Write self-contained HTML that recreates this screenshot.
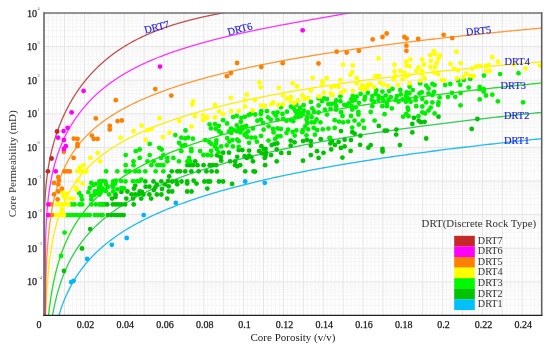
<!DOCTYPE html>
<html><head><meta charset="utf-8"><title>DRT Core Porosity vs Permeability</title>
<style>html,body{margin:0;padding:0;background:#fff;}body{width:550px;height:349px;position:relative;overflow:hidden;}</style>
</head><body>
<svg width="550" height="349" viewBox="0 0 550 349" style="position:absolute;left:0;top:0">
<defs><clipPath id="pa"><rect x="44.50" y="13.00" width="497.20" height="302.40"/></clipPath></defs>
<path d="M48.58 13.00V315.40M52.56 13.00V315.40M56.54 13.00V315.40M60.52 13.00V315.40M68.48 13.00V315.40M72.46 13.00V315.40M76.44 13.00V315.40M80.42 13.00V315.40M88.38 13.00V315.40M92.36 13.00V315.40M96.34 13.00V315.40M100.32 13.00V315.40M108.28 13.00V315.40M112.26 13.00V315.40M116.24 13.00V315.40M120.22 13.00V315.40M128.18 13.00V315.40M132.16 13.00V315.40M136.14 13.00V315.40M140.12 13.00V315.40M148.08 13.00V315.40M152.06 13.00V315.40M156.04 13.00V315.40M160.02 13.00V315.40M167.98 13.00V315.40M171.96 13.00V315.40M175.94 13.00V315.40M179.92 13.00V315.40M187.88 13.00V315.40M191.86 13.00V315.40M195.84 13.00V315.40M199.82 13.00V315.40M207.78 13.00V315.40M211.76 13.00V315.40M215.74 13.00V315.40M219.72 13.00V315.40M227.68 13.00V315.40M231.66 13.00V315.40M235.64 13.00V315.40M239.62 13.00V315.40M247.58 13.00V315.40M251.56 13.00V315.40M255.54 13.00V315.40M259.52 13.00V315.40M267.48 13.00V315.40M271.46 13.00V315.40M275.44 13.00V315.40M279.42 13.00V315.40M287.38 13.00V315.40M291.36 13.00V315.40M295.34 13.00V315.40M299.32 13.00V315.40M307.28 13.00V315.40M311.26 13.00V315.40M315.24 13.00V315.40M319.22 13.00V315.40M327.18 13.00V315.40M331.16 13.00V315.40M335.14 13.00V315.40M339.12 13.00V315.40M347.08 13.00V315.40M351.06 13.00V315.40M355.04 13.00V315.40M359.02 13.00V315.40M366.98 13.00V315.40M370.96 13.00V315.40M374.94 13.00V315.40M378.92 13.00V315.40M386.88 13.00V315.40M390.86 13.00V315.40M394.84 13.00V315.40M398.82 13.00V315.40M406.78 13.00V315.40M410.76 13.00V315.40M414.74 13.00V315.40M418.72 13.00V315.40M426.68 13.00V315.40M430.66 13.00V315.40M434.64 13.00V315.40M438.62 13.00V315.40M446.58 13.00V315.40M450.56 13.00V315.40M454.54 13.00V315.40M458.52 13.00V315.40M466.48 13.00V315.40M470.46 13.00V315.40M474.44 13.00V315.40M478.42 13.00V315.40M486.38 13.00V315.40M490.36 13.00V315.40M494.34 13.00V315.40M498.32 13.00V315.40M506.28 13.00V315.40M510.26 13.00V315.40M514.24 13.00V315.40M518.22 13.00V315.40M526.18 13.00V315.40M530.16 13.00V315.40M534.14 13.00V315.40M538.12 13.00V315.40M44.50 305.29H541.70M44.50 299.37H541.70M44.50 295.17H541.70M44.50 291.91H541.70M44.50 289.25H541.70M44.50 287.00H541.70M44.50 285.06H541.70M44.50 283.34H541.70M44.50 271.69H541.70M44.50 265.77H541.70M44.50 261.57H541.70M44.50 258.31H541.70M44.50 255.65H541.70M44.50 253.40H541.70M44.50 251.46H541.70M44.50 249.74H541.70M44.50 238.09H541.70M44.50 232.17H541.70M44.50 227.97H541.70M44.50 224.71H541.70M44.50 222.05H541.70M44.50 219.80H541.70M44.50 217.86H541.70M44.50 216.14H541.70M44.50 204.49H541.70M44.50 198.57H541.70M44.50 194.37H541.70M44.50 191.11H541.70M44.50 188.45H541.70M44.50 186.20H541.70M44.50 184.26H541.70M44.50 182.54H541.70M44.50 170.89H541.70M44.50 164.97H541.70M44.50 160.77H541.70M44.50 157.51H541.70M44.50 154.85H541.70M44.50 152.60H541.70M44.50 150.66H541.70M44.50 148.94H541.70M44.50 137.29H541.70M44.50 131.37H541.70M44.50 127.17H541.70M44.50 123.91H541.70M44.50 121.25H541.70M44.50 119.00H541.70M44.50 117.06H541.70M44.50 115.34H541.70M44.50 103.69H541.70M44.50 97.77H541.70M44.50 93.57H541.70M44.50 90.31H541.70M44.50 87.65H541.70M44.50 85.40H541.70M44.50 83.46H541.70M44.50 81.74H541.70M44.50 70.09H541.70M44.50 64.17H541.70M44.50 59.97H541.70M44.50 56.71H541.70M44.50 54.05H541.70M44.50 51.80H541.70M44.50 49.86H541.70M44.50 48.14H541.70M44.50 36.49H541.70M44.50 30.57H541.70M44.50 26.37H541.70M44.50 23.11H541.70M44.50 20.45H541.70M44.50 18.20H541.70M44.50 16.26H541.70M44.50 14.54H541.70" stroke="#f5f5f5" stroke-width="1" fill="none"/>
<path d="M64.50 13.00V315.40M84.40 13.00V315.40M104.30 13.00V315.40M124.20 13.00V315.40M144.10 13.00V315.40M164.00 13.00V315.40M183.90 13.00V315.40M203.80 13.00V315.40M223.70 13.00V315.40M243.60 13.00V315.40M263.50 13.00V315.40M283.40 13.00V315.40M303.30 13.00V315.40M323.20 13.00V315.40M343.10 13.00V315.40M363.00 13.00V315.40M382.90 13.00V315.40M402.80 13.00V315.40M422.70 13.00V315.40M442.60 13.00V315.40M462.50 13.00V315.40M482.40 13.00V315.40M502.30 13.00V315.40M522.20 13.00V315.40M44.50 281.80H541.70M44.50 248.20H541.70M44.50 214.60H541.70M44.50 181.00H541.70M44.50 147.40H541.70M44.50 113.80H541.70M44.50 80.20H541.70M44.50 46.60H541.70" stroke="#e5e5e5" stroke-width="1" fill="none"/>
<g clip-path="url(#pa)"><path d="M50.70 354.78 L50.80 354.06 L50.90 353.35 L51.00 352.65 L51.10 351.96 L51.20 351.28 L51.30 350.61 L51.40 349.94 L51.50 349.29 L51.60 348.64 L51.70 348.00 L51.80 347.37 L51.90 346.75 L52.00 346.13 L52.10 345.52 L52.20 344.92 L52.30 344.33 L52.40 343.74 L52.50 343.16 L52.60 342.59 L52.70 342.02 L52.80 341.46 L52.90 340.91 L53.00 340.36 L53.10 339.81 L53.20 339.28 L53.30 338.75 L53.40 338.22 L53.50 337.70 L53.60 337.18 L53.70 336.67 L53.80 336.17 L53.90 335.67 L54.00 335.17 L54.10 334.68 L54.20 334.20 L54.30 333.72 L54.40 333.24 L54.50 332.77 L54.60 332.30 L54.70 331.84 L54.80 331.38 L54.90 330.92 L55.00 330.47 L55.10 330.02 L55.20 329.58 L55.30 329.14 L55.40 328.71 L55.50 328.27 L55.60 327.85 L55.70 327.42 L55.80 327.00 L55.90 326.58 L56.00 326.17 L56.10 325.76 L56.20 325.35 L56.30 324.94 L56.40 324.54 L56.50 324.15 L56.60 323.75 L56.70 323.36 L56.80 322.97 L56.90 322.58 L57.00 322.20 L57.10 321.82 L57.20 321.44 L57.30 321.07 L57.40 320.70 L57.50 320.33 L57.60 319.96 L57.70 319.60 L57.80 319.24 L57.90 318.88 L58.00 318.52 L58.10 318.17 L58.20 317.82 L58.30 317.47 L58.40 317.12 L58.50 316.78 L58.60 316.44 L58.70 316.10 L58.80 315.76 L58.90 315.43 L59.00 315.09 L59.10 314.76 L59.20 314.44 L59.30 314.11 L59.40 313.79 L59.50 313.46 L59.60 313.14 L59.70 312.83 L59.80 312.51 L59.90 312.20 L60.00 311.88 L60.50 310.35 L61.00 308.86 L61.50 307.42 L62.00 306.01 L62.50 304.65 L63.00 303.31 L63.50 302.02 L64.00 300.75 L64.50 299.52 L65.00 298.31 L65.50 297.14 L66.00 295.99 L66.50 294.86 L67.00 293.76 L67.50 292.69 L68.00 291.63 L68.50 290.60 L69.00 289.59 L69.50 288.60 L70.00 287.62 L70.50 286.67 L71.00 285.73 L71.50 284.81 L72.00 283.91 L72.50 283.02 L73.00 282.15 L73.50 281.29 L74.00 280.44 L74.50 279.62 L75.00 278.80 L75.50 278.00 L76.00 277.20 L76.50 276.43 L77.00 275.66 L77.50 274.90 L78.00 274.16 L78.50 273.43 L79.00 272.70 L79.50 271.99 L80.00 271.29 L80.50 270.59 L81.00 269.91 L81.50 269.23 L82.00 268.57 L82.50 267.91 L83.00 267.26 L83.50 266.62 L84.00 265.99 L84.50 265.36 L85.00 264.75 L85.50 264.14 L86.00 263.53 L86.50 262.94 L87.00 262.35 L87.50 261.77 L88.00 261.19 L88.50 260.62 L89.00 260.06 L89.50 259.50 L90.00 258.95 L90.50 258.41 L91.00 257.87 L91.50 257.34 L92.00 256.81 L92.50 256.29 L93.00 255.77 L93.50 255.26 L94.00 254.75 L94.50 254.25 L95.00 253.76 L95.50 253.27 L96.00 252.78 L96.50 252.30 L97.00 251.82 L97.50 251.35 L98.00 250.88 L98.50 250.41 L99.00 249.95 L99.50 249.50 L100.00 249.04 L100.50 248.60 L101.00 248.15 L101.50 247.71 L102.00 247.27 L102.50 246.84 L103.00 246.41 L103.50 245.99 L104.00 245.57 L104.50 245.15 L105.00 244.73 L105.50 244.32 L106.00 243.91 L106.50 243.51 L107.00 243.11 L107.50 242.71 L108.00 242.31 L108.50 241.92 L109.00 241.53 L109.50 241.14 L110.00 240.76 L110.50 240.38 L111.00 240.00 L111.50 239.63 L112.00 239.25 L112.50 238.88 L113.00 238.52 L113.50 238.15 L114.00 237.79 L114.50 237.43 L115.00 237.07 L115.50 236.72 L116.00 236.37 L116.50 236.02 L117.00 235.67 L117.50 235.33 L118.00 234.99 L118.50 234.65 L119.00 234.31 L119.50 233.97 L120.00 233.64 L122.00 232.33 L124.00 231.05 L126.00 229.81 L128.00 228.59 L130.00 227.40 L132.00 226.24 L134.00 225.11 L136.00 224.00 L138.00 222.91 L140.00 221.85 L142.00 220.81 L144.00 219.79 L146.00 218.78 L148.00 217.80 L150.00 216.84 L152.00 215.90 L154.00 214.97 L156.00 214.06 L158.00 213.17 L160.00 212.29 L162.00 211.42 L164.00 210.58 L166.00 209.74 L168.00 208.92 L170.00 208.11 L172.00 207.31 L174.00 206.53 L176.00 205.76 L178.00 205.00 L180.00 204.25 L182.00 203.51 L184.00 202.79 L186.00 202.07 L188.00 201.36 L190.00 200.67 L192.00 199.98 L194.00 199.30 L196.00 198.63 L198.00 197.97 L200.00 197.32 L202.00 196.67 L204.00 196.04 L206.00 195.41 L208.00 194.79 L210.00 194.18 L212.00 193.57 L214.00 192.97 L216.00 192.38 L218.00 191.80 L220.00 191.22 L222.00 190.65 L224.00 190.08 L226.00 189.53 L228.00 188.97 L230.00 188.43 L232.00 187.89 L234.00 187.35 L236.00 186.82 L238.00 186.30 L240.00 185.78 L242.00 185.27 L244.00 184.76 L246.00 184.25 L248.00 183.76 L250.00 183.26 L252.00 182.78 L254.00 182.29 L256.00 181.81 L258.00 181.34 L260.00 180.87 L262.00 180.40 L264.00 179.94 L266.00 179.48 L268.00 179.03 L270.00 178.58 L272.00 178.13 L274.00 177.69 L276.00 177.26 L278.00 176.82 L280.00 176.39 L282.00 175.96 L284.00 175.54 L286.00 175.12 L288.00 174.71 L290.00 174.29 L292.00 173.88 L294.00 173.48 L296.00 173.08 L298.00 172.68 L300.00 172.28 L302.00 171.89 L304.00 171.50 L306.00 171.11 L308.00 170.72 L310.00 170.34 L312.00 169.96 L314.00 169.59 L316.00 169.21 L318.00 168.84 L320.00 168.48 L322.00 168.11 L324.00 167.75 L326.00 167.39 L328.00 167.03 L330.00 166.68 L332.00 166.33 L334.00 165.98 L336.00 165.63 L338.00 165.28 L340.00 164.94 L342.00 164.60 L344.00 164.26 L346.00 163.93 L348.00 163.59 L350.00 163.26 L352.00 162.93 L354.00 162.61 L356.00 162.28 L358.00 161.96 L360.00 161.64 L362.00 161.32 L364.00 161.00 L366.00 160.69 L368.00 160.37 L370.00 160.06 L372.00 159.75 L374.00 159.45 L376.00 159.14 L378.00 158.84 L380.00 158.53 L382.00 158.23 L384.00 157.94 L386.00 157.64 L388.00 157.35 L390.00 157.05 L392.00 156.76 L394.00 156.47 L396.00 156.18 L398.00 155.90 L400.00 155.61 L402.00 155.33 L404.00 155.05 L406.00 154.77 L408.00 154.49 L410.00 154.21 L412.00 153.94 L414.00 153.66 L416.00 153.39 L418.00 153.12 L420.00 152.85 L422.00 152.58 L424.00 152.32 L426.00 152.05 L428.00 151.79 L430.00 151.52 L432.00 151.26 L434.00 151.00 L436.00 150.75 L438.00 150.49 L440.00 150.23 L442.00 149.98 L444.00 149.72 L446.00 149.47 L448.00 149.22 L450.00 148.97 L452.00 148.72 L454.00 148.48 L456.00 148.23 L458.00 147.99 L460.00 147.74 L462.00 147.50 L464.00 147.26 L466.00 147.02 L468.00 146.78 L470.00 146.54 L472.00 146.31 L474.00 146.07 L476.00 145.84 L478.00 145.60 L480.00 145.37 L482.00 145.14 L484.00 144.91 L486.00 144.68 L488.00 144.45 L490.00 144.23 L492.00 144.00 L494.00 143.78 L496.00 143.55 L498.00 143.33 L500.00 143.11 L502.00 142.89 L504.00 142.67 L506.00 142.45 L508.00 142.23 L510.00 142.01 L512.00 141.79 L514.00 141.58 L516.00 141.36 L518.00 141.15 L520.00 140.94 L522.00 140.73 L524.00 140.52 L526.00 140.31 L528.00 140.10 L530.00 139.89 L532.00 139.68 L534.00 139.47 L536.00 139.27 L538.00 139.06 L540.00 138.86 L542.00 138.66" stroke="#22bbee" stroke-width="1.3" fill="none"/><path d="M47.70 355.38 L47.80 354.14 L47.90 352.93 L48.00 351.75 L48.10 350.60 L48.20 349.47 L48.30 348.36 L48.40 347.28 L48.50 346.23 L48.60 345.19 L48.70 344.18 L48.80 343.18 L48.90 342.21 L49.00 341.25 L49.10 340.31 L49.20 339.39 L49.30 338.48 L49.40 337.59 L49.50 336.72 L49.60 335.86 L49.70 335.01 L49.80 334.18 L49.90 333.37 L50.00 332.56 L50.10 331.77 L50.20 330.99 L50.30 330.22 L50.40 329.47 L50.50 328.72 L50.60 327.99 L50.70 327.26 L50.80 326.55 L50.90 325.84 L51.00 325.15 L51.10 324.47 L51.20 323.79 L51.30 323.12 L51.40 322.47 L51.50 321.82 L51.60 321.18 L51.70 320.54 L51.80 319.92 L51.90 319.30 L52.00 318.69 L52.10 318.09 L52.20 317.49 L52.30 316.90 L52.40 316.32 L52.50 315.74 L52.60 315.18 L52.70 314.61 L52.80 314.06 L52.90 313.51 L53.00 312.96 L53.10 312.42 L53.20 311.89 L53.30 311.36 L53.40 310.84 L53.50 310.33 L53.60 309.81 L53.70 309.31 L53.80 308.81 L53.90 308.31 L54.00 307.82 L54.10 307.33 L54.20 306.85 L54.30 306.37 L54.40 305.90 L54.50 305.43 L54.60 304.97 L54.70 304.51 L54.80 304.05 L54.90 303.60 L55.00 303.15 L55.10 302.71 L55.20 302.27 L55.30 301.83 L55.40 301.40 L55.50 300.97 L55.60 300.55 L55.70 300.12 L55.80 299.71 L55.90 299.29 L56.00 298.88 L56.10 298.47 L56.20 298.07 L56.30 297.67 L56.40 297.27 L56.50 296.87 L56.60 296.48 L56.70 296.09 L56.80 295.70 L56.90 295.32 L57.00 294.94 L57.10 294.56 L57.20 294.19 L57.30 293.82 L57.40 293.45 L57.50 293.08 L57.60 292.72 L57.70 292.36 L57.80 292.00 L57.90 291.64 L58.00 291.29 L58.10 290.94 L58.20 290.59 L58.30 290.24 L58.40 289.90 L58.50 289.56 L58.60 289.22 L58.70 288.88 L58.80 288.54 L58.90 288.21 L59.00 287.88 L59.10 287.55 L59.20 287.23 L59.30 286.90 L59.40 286.58 L59.50 286.26 L59.60 285.94 L59.70 285.63 L59.80 285.31 L59.90 285.00 L60.00 284.69 L60.50 283.17 L61.00 281.69 L61.50 280.25 L62.00 278.85 L62.50 277.50 L63.00 276.17 L63.50 274.88 L64.00 273.62 L64.50 272.40 L65.00 271.20 L65.50 270.03 L66.00 268.89 L66.50 267.77 L67.00 266.67 L67.50 265.60 L68.00 264.55 L68.50 263.53 L69.00 262.52 L69.50 261.53 L70.00 260.57 L70.50 259.62 L71.00 258.68 L71.50 257.77 L72.00 256.87 L72.50 255.99 L73.00 255.12 L73.50 254.26 L74.00 253.42 L74.50 252.60 L75.00 251.79 L75.50 250.99 L76.00 250.20 L76.50 249.43 L77.00 248.66 L77.50 247.91 L78.00 247.17 L78.50 246.44 L79.00 245.72 L79.50 245.01 L80.00 244.31 L80.50 243.62 L81.00 242.94 L81.50 242.27 L82.00 241.61 L82.50 240.95 L83.00 240.31 L83.50 239.67 L84.00 239.04 L84.50 238.42 L85.00 237.80 L85.50 237.19 L86.00 236.59 L86.50 236.00 L87.00 235.42 L87.50 234.84 L88.00 234.26 L88.50 233.70 L89.00 233.14 L89.50 232.58 L90.00 232.04 L90.50 231.49 L91.00 230.96 L91.50 230.43 L92.00 229.90 L92.50 229.38 L93.00 228.87 L93.50 228.36 L94.00 227.86 L94.50 227.36 L95.00 226.86 L95.50 226.37 L96.00 225.89 L96.50 225.41 L97.00 224.93 L97.50 224.46 L98.00 224.00 L98.50 223.53 L99.00 223.08 L99.50 222.62 L100.00 222.17 L100.50 221.73 L101.00 221.28 L101.50 220.85 L102.00 220.41 L102.50 219.98 L103.00 219.55 L103.50 219.13 L104.00 218.71 L104.50 218.29 L105.00 217.88 L105.50 217.47 L106.00 217.06 L106.50 216.66 L107.00 216.26 L107.50 215.86 L108.00 215.47 L108.50 215.08 L109.00 214.69 L109.50 214.31 L110.00 213.92 L110.50 213.54 L111.00 213.17 L111.50 212.80 L112.00 212.42 L112.50 212.06 L113.00 211.69 L113.50 211.33 L114.00 210.97 L114.50 210.61 L115.00 210.26 L115.50 209.90 L116.00 209.55 L116.50 209.21 L117.00 208.86 L117.50 208.52 L118.00 208.18 L118.50 207.84 L119.00 207.50 L119.50 207.17 L120.00 206.84 L122.00 205.53 L124.00 204.26 L126.00 203.02 L128.00 201.81 L130.00 200.63 L132.00 199.47 L134.00 198.34 L136.00 197.24 L138.00 196.15 L140.00 195.10 L142.00 194.06 L144.00 193.04 L146.00 192.05 L148.00 191.07 L150.00 190.11 L152.00 189.17 L154.00 188.25 L156.00 187.34 L158.00 186.45 L160.00 185.58 L162.00 184.72 L164.00 183.87 L166.00 183.04 L168.00 182.23 L170.00 181.42 L172.00 180.63 L174.00 179.85 L176.00 179.08 L178.00 178.32 L180.00 177.58 L182.00 176.84 L184.00 176.12 L186.00 175.41 L188.00 174.70 L190.00 174.01 L192.00 173.33 L194.00 172.65 L196.00 171.98 L198.00 171.33 L200.00 170.68 L202.00 170.04 L204.00 169.40 L206.00 168.78 L208.00 168.16 L210.00 167.55 L212.00 166.95 L214.00 166.35 L216.00 165.76 L218.00 165.18 L220.00 164.61 L222.00 164.04 L224.00 163.48 L226.00 162.92 L228.00 162.37 L230.00 161.83 L232.00 161.29 L234.00 160.76 L236.00 160.23 L238.00 159.71 L240.00 159.19 L242.00 158.68 L244.00 158.18 L246.00 157.68 L248.00 157.18 L250.00 156.69 L252.00 156.21 L254.00 155.72 L256.00 155.25 L258.00 154.77 L260.00 154.31 L262.00 153.84 L264.00 153.38 L266.00 152.93 L268.00 152.48 L270.00 152.03 L272.00 151.59 L274.00 151.15 L276.00 150.71 L278.00 150.28 L280.00 149.85 L282.00 149.43 L284.00 149.01 L286.00 148.59 L288.00 148.18 L290.00 147.77 L292.00 147.36 L294.00 146.96 L296.00 146.55 L298.00 146.16 L300.00 145.76 L302.00 145.37 L304.00 144.98 L306.00 144.60 L308.00 144.22 L310.00 143.84 L312.00 143.46 L314.00 143.09 L316.00 142.71 L318.00 142.35 L320.00 141.98 L322.00 141.62 L324.00 141.26 L326.00 140.90 L328.00 140.54 L330.00 140.19 L332.00 139.84 L334.00 139.49 L336.00 139.15 L338.00 138.80 L340.00 138.46 L342.00 138.13 L344.00 137.79 L346.00 137.46 L348.00 137.12 L350.00 136.79 L352.00 136.47 L354.00 136.14 L356.00 135.82 L358.00 135.50 L360.00 135.18 L362.00 134.86 L364.00 134.55 L366.00 134.23 L368.00 133.92 L370.00 133.61 L372.00 133.31 L374.00 133.00 L376.00 132.70 L378.00 132.39 L380.00 132.09 L382.00 131.80 L384.00 131.50 L386.00 131.21 L388.00 130.91 L390.00 130.62 L392.00 130.33 L394.00 130.04 L396.00 129.76 L398.00 129.47 L400.00 129.19 L402.00 128.91 L404.00 128.63 L406.00 128.35 L408.00 128.07 L410.00 127.80 L412.00 127.53 L414.00 127.25 L416.00 126.98 L418.00 126.71 L420.00 126.45 L422.00 126.18 L424.00 125.91 L426.00 125.65 L428.00 125.39 L430.00 125.13 L432.00 124.87 L434.00 124.61 L436.00 124.35 L438.00 124.10 L440.00 123.84 L442.00 123.59 L444.00 123.34 L446.00 123.09 L448.00 122.84 L450.00 122.59 L452.00 122.34 L454.00 122.10 L456.00 121.86 L458.00 121.61 L460.00 121.37 L462.00 121.13 L464.00 120.89 L466.00 120.65 L468.00 120.41 L470.00 120.18 L472.00 119.94 L474.00 119.71 L476.00 119.48 L478.00 119.24 L480.00 119.01 L482.00 118.78 L484.00 118.56 L486.00 118.33 L488.00 118.10 L490.00 117.88 L492.00 117.65 L494.00 117.43 L496.00 117.21 L498.00 116.98 L500.00 116.76 L502.00 116.54 L504.00 116.33 L506.00 116.11 L508.00 115.89 L510.00 115.68 L512.00 115.46 L514.00 115.25 L516.00 115.03 L518.00 114.82 L520.00 114.61 L522.00 114.40 L524.00 114.19 L526.00 113.98 L528.00 113.78 L530.00 113.57 L532.00 113.36 L534.00 113.16 L536.00 112.95 L538.00 112.75 L540.00 112.55 L542.00 112.35" stroke="#33cc55" stroke-width="1.3" fill="none"/><path d="M45.50 355.03 L45.60 353.12 L45.70 351.29 L45.80 349.51 L45.90 347.79 L46.00 346.13 L46.10 344.52 L46.20 342.95 L46.30 341.43 L46.40 339.96 L46.50 338.52 L46.60 337.12 L46.70 335.76 L46.80 334.43 L46.90 333.13 L47.00 331.87 L47.10 330.63 L47.20 329.43 L47.30 328.25 L47.40 327.09 L47.50 325.96 L47.60 324.86 L47.70 323.77 L47.80 322.71 L47.90 321.67 L48.00 320.65 L48.10 319.65 L48.20 318.67 L48.30 317.70 L48.40 316.76 L48.50 315.83 L48.60 314.91 L48.70 314.01 L48.80 313.13 L48.90 312.26 L49.00 311.41 L49.10 310.56 L49.20 309.74 L49.30 308.92 L49.40 308.12 L49.50 307.33 L49.60 306.55 L49.70 305.78 L49.80 305.02 L49.90 304.28 L50.00 303.54 L50.10 302.82 L50.20 302.10 L50.30 301.39 L50.40 300.70 L50.50 300.01 L50.60 299.33 L50.70 298.66 L50.80 298.00 L50.90 297.34 L51.00 296.70 L51.10 296.06 L51.20 295.43 L51.30 294.81 L51.40 294.19 L51.50 293.58 L51.60 292.98 L51.70 292.39 L51.80 291.80 L51.90 291.22 L52.00 290.64 L52.10 290.07 L52.20 289.51 L52.30 288.95 L52.40 288.40 L52.50 287.86 L52.60 287.32 L52.70 286.78 L52.80 286.25 L52.90 285.73 L53.00 285.21 L53.10 284.70 L53.20 284.19 L53.30 283.69 L53.40 283.19 L53.50 282.69 L53.60 282.20 L53.70 281.72 L53.80 281.24 L53.90 280.76 L54.00 280.29 L54.10 279.82 L54.20 279.36 L54.30 278.90 L54.40 278.44 L54.50 277.99 L54.60 277.54 L54.70 277.10 L54.80 276.66 L54.90 276.22 L55.00 275.79 L55.10 275.36 L55.20 274.93 L55.30 274.51 L55.40 274.09 L55.50 273.67 L55.60 273.26 L55.70 272.85 L55.80 272.44 L55.90 272.04 L56.00 271.64 L56.10 271.24 L56.20 270.85 L56.30 270.45 L56.40 270.07 L56.50 269.68 L56.60 269.30 L56.70 268.92 L56.80 268.54 L56.90 268.16 L57.00 267.79 L57.10 267.42 L57.20 267.06 L57.30 266.69 L57.40 266.33 L57.50 265.97 L57.60 265.61 L57.70 265.26 L57.80 264.91 L57.90 264.56 L58.00 264.21 L58.10 263.86 L58.20 263.52 L58.30 263.18 L58.40 262.84 L58.50 262.50 L58.60 262.17 L58.70 261.84 L58.80 261.51 L58.90 261.18 L59.00 260.85 L59.10 260.53 L59.20 260.21 L59.30 259.89 L59.40 259.57 L59.50 259.25 L59.60 258.94 L59.70 258.63 L59.80 258.32 L59.90 258.01 L60.00 257.70 L60.50 256.19 L61.00 254.72 L61.50 253.30 L62.00 251.91 L62.50 250.55 L63.00 249.23 L63.50 247.95 L64.00 246.69 L64.50 245.46 L65.00 244.26 L65.50 243.09 L66.00 241.94 L66.50 240.82 L67.00 239.72 L67.50 238.65 L68.00 237.59 L68.50 236.56 L69.00 235.54 L69.50 234.55 L70.00 233.57 L70.50 232.61 L71.00 231.67 L71.50 230.75 L72.00 229.84 L72.50 228.95 L73.00 228.07 L73.50 227.20 L74.00 226.35 L74.50 225.52 L75.00 224.69 L75.50 223.88 L76.00 223.08 L76.50 222.30 L77.00 221.52 L77.50 220.76 L78.00 220.01 L78.50 219.27 L79.00 218.53 L79.50 217.81 L80.00 217.10 L80.50 216.40 L81.00 215.71 L81.50 215.02 L82.00 214.35 L82.50 213.68 L83.00 213.02 L83.50 212.37 L84.00 211.73 L84.50 211.10 L85.00 210.47 L85.50 209.85 L86.00 209.24 L86.50 208.64 L87.00 208.04 L87.50 207.45 L88.00 206.86 L88.50 206.29 L89.00 205.71 L89.50 205.15 L90.00 204.59 L90.50 204.04 L91.00 203.49 L91.50 202.95 L92.00 202.41 L92.50 201.88 L93.00 201.35 L93.50 200.83 L94.00 200.32 L94.50 199.81 L95.00 199.30 L95.50 198.80 L96.00 198.30 L96.50 197.81 L97.00 197.33 L97.50 196.85 L98.00 196.37 L98.50 195.89 L99.00 195.43 L99.50 194.96 L100.00 194.50 L100.50 194.04 L101.00 193.59 L101.50 193.14 L102.00 192.70 L102.50 192.26 L103.00 191.82 L103.50 191.38 L104.00 190.95 L104.50 190.53 L105.00 190.10 L105.50 189.68 L106.00 189.27 L106.50 188.85 L107.00 188.44 L107.50 188.04 L108.00 187.63 L108.50 187.23 L109.00 186.84 L109.50 186.44 L110.00 186.05 L110.50 185.66 L111.00 185.28 L111.50 184.89 L112.00 184.51 L112.50 184.13 L113.00 183.76 L113.50 183.39 L114.00 183.02 L114.50 182.65 L115.00 182.29 L115.50 181.93 L116.00 181.57 L116.50 181.21 L117.00 180.86 L117.50 180.51 L118.00 180.16 L118.50 179.81 L119.00 179.46 L119.50 179.12 L120.00 178.78 L122.00 177.44 L124.00 176.14 L126.00 174.86 L128.00 173.62 L130.00 172.41 L132.00 171.22 L134.00 170.06 L136.00 168.93 L138.00 167.82 L140.00 166.73 L142.00 165.67 L144.00 164.63 L146.00 163.60 L148.00 162.60 L150.00 161.62 L152.00 160.65 L154.00 159.71 L156.00 158.78 L158.00 157.87 L160.00 156.97 L162.00 156.09 L164.00 155.22 L166.00 154.37 L168.00 153.53 L170.00 152.70 L172.00 151.89 L174.00 151.09 L176.00 150.30 L178.00 149.53 L180.00 148.77 L182.00 148.01 L184.00 147.27 L186.00 146.54 L188.00 145.82 L190.00 145.11 L192.00 144.41 L194.00 143.72 L196.00 143.04 L198.00 142.36 L200.00 141.70 L202.00 141.04 L204.00 140.40 L206.00 139.76 L208.00 139.13 L210.00 138.50 L212.00 137.89 L214.00 137.28 L216.00 136.68 L218.00 136.08 L220.00 135.50 L222.00 134.92 L224.00 134.34 L226.00 133.78 L228.00 133.21 L230.00 132.66 L232.00 132.11 L234.00 131.57 L236.00 131.03 L238.00 130.50 L240.00 129.97 L242.00 129.45 L244.00 128.94 L246.00 128.43 L248.00 127.92 L250.00 127.42 L252.00 126.93 L254.00 126.44 L256.00 125.95 L258.00 125.47 L260.00 125.00 L262.00 124.52 L264.00 124.06 L266.00 123.59 L268.00 123.14 L270.00 122.68 L272.00 122.23 L274.00 121.78 L276.00 121.34 L278.00 120.90 L280.00 120.47 L282.00 120.04 L284.00 119.61 L286.00 119.19 L288.00 118.77 L290.00 118.35 L292.00 117.94 L294.00 117.53 L296.00 117.12 L298.00 116.72 L300.00 116.32 L302.00 115.93 L304.00 115.53 L306.00 115.14 L308.00 114.76 L310.00 114.37 L312.00 113.99 L314.00 113.61 L316.00 113.24 L318.00 112.87 L320.00 112.50 L322.00 112.13 L324.00 111.77 L326.00 111.40 L328.00 111.05 L330.00 110.69 L332.00 110.34 L334.00 109.98 L336.00 109.64 L338.00 109.29 L340.00 108.95 L342.00 108.61 L344.00 108.27 L346.00 107.93 L348.00 107.60 L350.00 107.27 L352.00 106.94 L354.00 106.61 L356.00 106.28 L358.00 105.96 L360.00 105.64 L362.00 105.32 L364.00 105.00 L366.00 104.69 L368.00 104.38 L370.00 104.07 L372.00 103.76 L374.00 103.45 L376.00 103.15 L378.00 102.85 L380.00 102.54 L382.00 102.25 L384.00 101.95 L386.00 101.65 L388.00 101.36 L390.00 101.07 L392.00 100.78 L394.00 100.49 L396.00 100.20 L398.00 99.92 L400.00 99.64 L402.00 99.36 L404.00 99.08 L406.00 98.80 L408.00 98.52 L410.00 98.25 L412.00 97.97 L414.00 97.70 L416.00 97.43 L418.00 97.16 L420.00 96.90 L422.00 96.63 L424.00 96.37 L426.00 96.11 L428.00 95.84 L430.00 95.58 L432.00 95.33 L434.00 95.07 L436.00 94.81 L438.00 94.56 L440.00 94.31 L442.00 94.06 L444.00 93.81 L446.00 93.56 L448.00 93.31 L450.00 93.06 L452.00 92.82 L454.00 92.58 L456.00 92.33 L458.00 92.09 L460.00 91.85 L462.00 91.62 L464.00 91.38 L466.00 91.14 L468.00 90.91 L470.00 90.67 L472.00 90.44 L474.00 90.21 L476.00 89.98 L478.00 89.75 L480.00 89.52 L482.00 89.30 L484.00 89.07 L486.00 88.85 L488.00 88.62 L490.00 88.40 L492.00 88.18 L494.00 87.96 L496.00 87.74 L498.00 87.52 L500.00 87.31 L502.00 87.09 L504.00 86.88 L506.00 86.66 L508.00 86.45 L510.00 86.24 L512.00 86.03 L514.00 85.82 L516.00 85.61 L518.00 85.40 L520.00 85.19 L522.00 84.99 L524.00 84.78 L526.00 84.58 L528.00 84.37 L530.00 84.17 L532.00 83.97 L534.00 83.77 L536.00 83.57 L538.00 83.37 L540.00 83.17 L542.00 82.97" stroke="#22dd22" stroke-width="1.3" fill="none"/><path d="M44.90 352.98 L45.00 346.81 L45.10 341.39 L45.20 336.56 L45.30 332.21 L45.40 328.24 L45.50 324.60 L45.60 321.24 L45.70 318.11 L45.80 315.19 L45.90 312.44 L46.00 309.86 L46.10 307.42 L46.20 305.11 L46.30 302.91 L46.40 300.81 L46.50 298.81 L46.60 296.90 L46.70 295.06 L46.80 293.30 L46.90 291.60 L47.00 289.97 L47.10 288.39 L47.20 286.87 L47.30 285.40 L47.40 283.98 L47.50 282.60 L47.60 281.26 L47.70 279.96 L47.80 278.70 L47.90 277.47 L48.00 276.28 L48.10 275.12 L48.20 273.98 L48.30 272.88 L48.40 271.80 L48.50 270.75 L48.60 269.72 L48.70 268.71 L48.80 267.73 L48.90 266.77 L49.00 265.83 L49.10 264.91 L49.20 264.00 L49.30 263.12 L49.40 262.25 L49.50 261.40 L49.60 260.56 L49.70 259.74 L49.80 258.94 L49.90 258.15 L50.00 257.37 L50.10 256.61 L50.20 255.86 L50.30 255.12 L50.40 254.40 L50.50 253.68 L50.60 252.98 L50.70 252.29 L50.80 251.61 L50.90 250.94 L51.00 250.27 L51.10 249.62 L51.20 248.98 L51.30 248.35 L51.40 247.72 L51.50 247.11 L51.60 246.50 L51.70 245.90 L51.80 245.31 L51.90 244.73 L52.00 244.16 L52.10 243.59 L52.20 243.03 L52.30 242.47 L52.40 241.93 L52.50 241.39 L52.60 240.85 L52.70 240.32 L52.80 239.80 L52.90 239.29 L53.00 238.78 L53.10 238.28 L53.20 237.78 L53.30 237.29 L53.40 236.80 L53.50 236.32 L53.60 235.84 L53.70 235.37 L53.80 234.90 L53.90 234.44 L54.00 233.98 L54.10 233.53 L54.20 233.08 L54.30 232.64 L54.40 232.20 L54.50 231.77 L54.60 231.34 L54.70 230.91 L54.80 230.49 L54.90 230.07 L55.00 229.66 L55.10 229.25 L55.20 228.84 L55.30 228.44 L55.40 228.04 L55.50 227.64 L55.60 227.25 L55.70 226.86 L55.80 226.48 L55.90 226.09 L56.00 225.72 L56.10 225.34 L56.20 224.97 L56.30 224.60 L56.40 224.23 L56.50 223.87 L56.60 223.51 L56.70 223.15 L56.80 222.80 L56.90 222.44 L57.00 222.10 L57.10 221.75 L57.20 221.41 L57.30 221.06 L57.40 220.73 L57.50 220.39 L57.60 220.06 L57.70 219.73 L57.80 219.40 L57.90 219.07 L58.00 218.75 L58.10 218.43 L58.20 218.11 L58.30 217.79 L58.40 217.48 L58.50 217.17 L58.60 216.86 L58.70 216.55 L58.80 216.24 L58.90 215.94 L59.00 215.64 L59.10 215.34 L59.20 215.04 L59.30 214.74 L59.40 214.45 L59.50 214.16 L59.60 213.87 L59.70 213.58 L59.80 213.30 L59.90 213.01 L60.00 212.73 L60.50 211.34 L61.00 210.00 L61.50 208.70 L62.00 207.43 L62.50 206.20 L63.00 205.00 L63.50 203.84 L64.00 202.70 L64.50 201.59 L65.00 200.51 L65.50 199.46 L66.00 198.42 L66.50 197.42 L67.00 196.43 L67.50 195.47 L68.00 194.53 L68.50 193.60 L69.00 192.70 L69.50 191.81 L70.00 190.94 L70.50 190.09 L71.00 189.26 L71.50 188.44 L72.00 187.63 L72.50 186.84 L73.00 186.06 L73.50 185.30 L74.00 184.55 L74.50 183.81 L75.00 183.09 L75.50 182.37 L76.00 181.67 L76.50 180.98 L77.00 180.29 L77.50 179.62 L78.00 178.96 L78.50 178.31 L79.00 177.67 L79.50 177.04 L80.00 176.41 L80.50 175.80 L81.00 175.19 L81.50 174.60 L82.00 174.01 L82.50 173.42 L83.00 172.85 L83.50 172.28 L84.00 171.72 L84.50 171.17 L85.00 170.62 L85.50 170.08 L86.00 169.55 L86.50 169.02 L87.00 168.50 L87.50 167.99 L88.00 167.48 L88.50 166.98 L89.00 166.48 L89.50 165.99 L90.00 165.50 L90.50 165.02 L91.00 164.55 L91.50 164.08 L92.00 163.61 L92.50 163.15 L93.00 162.69 L93.50 162.24 L94.00 161.80 L94.50 161.35 L95.00 160.92 L95.50 160.48 L96.00 160.05 L96.50 159.63 L97.00 159.21 L97.50 158.79 L98.00 158.38 L98.50 157.97 L99.00 157.56 L99.50 157.16 L100.00 156.76 L100.50 156.37 L101.00 155.98 L101.50 155.59 L102.00 155.21 L102.50 154.83 L103.00 154.45 L103.50 154.08 L104.00 153.70 L104.50 153.34 L105.00 152.97 L105.50 152.61 L106.00 152.25 L106.50 151.89 L107.00 151.54 L107.50 151.19 L108.00 150.84 L108.50 150.50 L109.00 150.16 L109.50 149.82 L110.00 149.48 L110.50 149.15 L111.00 148.81 L111.50 148.48 L112.00 148.16 L112.50 147.83 L113.00 147.51 L113.50 147.19 L114.00 146.87 L114.50 146.56 L115.00 146.25 L115.50 145.94 L116.00 145.63 L116.50 145.32 L117.00 145.02 L117.50 144.71 L118.00 144.41 L118.50 144.12 L119.00 143.82 L119.50 143.53 L120.00 143.23 L122.00 142.09 L124.00 140.97 L126.00 139.88 L128.00 138.81 L130.00 137.77 L132.00 136.76 L134.00 135.76 L136.00 134.79 L138.00 133.84 L140.00 132.92 L142.00 132.01 L144.00 131.12 L146.00 130.24 L148.00 129.39 L150.00 128.55 L152.00 127.73 L154.00 126.92 L156.00 126.12 L158.00 125.35 L160.00 124.58 L162.00 123.83 L164.00 123.09 L166.00 122.36 L168.00 121.65 L170.00 120.95 L172.00 120.25 L174.00 119.57 L176.00 118.90 L178.00 118.24 L180.00 117.59 L182.00 116.95 L184.00 116.32 L186.00 115.70 L188.00 115.09 L190.00 114.48 L192.00 113.89 L194.00 113.30 L196.00 112.72 L198.00 112.15 L200.00 111.58 L202.00 111.03 L204.00 110.47 L206.00 109.93 L208.00 109.40 L210.00 108.87 L212.00 108.34 L214.00 107.83 L216.00 107.31 L218.00 106.81 L220.00 106.31 L222.00 105.82 L224.00 105.33 L226.00 104.85 L228.00 104.37 L230.00 103.90 L232.00 103.44 L234.00 102.97 L236.00 102.52 L238.00 102.07 L240.00 101.62 L242.00 101.18 L244.00 100.74 L246.00 100.31 L248.00 99.88 L250.00 99.46 L252.00 99.04 L254.00 98.62 L256.00 98.21 L258.00 97.80 L260.00 97.40 L262.00 97.00 L264.00 96.60 L266.00 96.21 L268.00 95.82 L270.00 95.43 L272.00 95.05 L274.00 94.67 L276.00 94.30 L278.00 93.93 L280.00 93.56 L282.00 93.19 L284.00 92.83 L286.00 92.47 L288.00 92.12 L290.00 91.76 L292.00 91.41 L294.00 91.07 L296.00 90.72 L298.00 90.38 L300.00 90.04 L302.00 89.71 L304.00 89.37 L306.00 89.04 L308.00 88.72 L310.00 88.39 L312.00 88.07 L314.00 87.75 L316.00 87.43 L318.00 87.11 L320.00 86.80 L322.00 86.49 L324.00 86.18 L326.00 85.88 L328.00 85.57 L330.00 85.27 L332.00 84.97 L334.00 84.67 L336.00 84.38 L338.00 84.09 L340.00 83.79 L342.00 83.51 L344.00 83.22 L346.00 82.93 L348.00 82.65 L350.00 82.37 L352.00 82.09 L354.00 81.81 L356.00 81.54 L358.00 81.26 L360.00 80.99 L362.00 80.72 L364.00 80.45 L366.00 80.19 L368.00 79.92 L370.00 79.66 L372.00 79.40 L374.00 79.14 L376.00 78.88 L378.00 78.63 L380.00 78.37 L382.00 78.12 L384.00 77.87 L386.00 77.62 L388.00 77.37 L390.00 77.12 L392.00 76.88 L394.00 76.63 L396.00 76.39 L398.00 76.15 L400.00 75.91 L402.00 75.67 L404.00 75.43 L406.00 75.20 L408.00 74.96 L410.00 74.73 L412.00 74.50 L414.00 74.27 L416.00 74.04 L418.00 73.81 L420.00 73.59 L422.00 73.36 L424.00 73.14 L426.00 72.92 L428.00 72.70 L430.00 72.48 L432.00 72.26 L434.00 72.04 L436.00 71.82 L438.00 71.61 L440.00 71.40 L442.00 71.18 L444.00 70.97 L446.00 70.76 L448.00 70.55 L450.00 70.34 L452.00 70.14 L454.00 69.93 L456.00 69.72 L458.00 69.52 L460.00 69.32 L462.00 69.12 L464.00 68.92 L466.00 68.72 L468.00 68.52 L470.00 68.32 L472.00 68.12 L474.00 67.93 L476.00 67.73 L478.00 67.54 L480.00 67.34 L482.00 67.15 L484.00 66.96 L486.00 66.77 L488.00 66.58 L490.00 66.39 L492.00 66.21 L494.00 66.02 L496.00 65.84 L498.00 65.65 L500.00 65.47 L502.00 65.28 L504.00 65.10 L506.00 64.92 L508.00 64.74 L510.00 64.56 L512.00 64.38 L514.00 64.20 L516.00 64.03 L518.00 63.85 L520.00 63.68 L522.00 63.50 L524.00 63.33 L526.00 63.15 L528.00 62.98 L530.00 62.81 L532.00 62.64 L534.00 62.47 L536.00 62.30 L538.00 62.13 L540.00 61.97 L542.00 61.80" stroke="#ffee00" stroke-width="1.3" fill="none"/><path d="M44.70 341.33 L44.80 330.61 L44.90 322.05 L45.00 314.91 L45.10 308.79 L45.20 303.44 L45.30 298.68 L45.40 294.39 L45.50 290.50 L45.60 286.93 L45.70 283.63 L45.80 280.57 L45.90 277.71 L46.00 275.03 L46.10 272.51 L46.20 270.13 L46.30 267.87 L46.40 265.73 L46.50 263.68 L46.60 261.73 L46.70 259.87 L46.80 258.08 L46.90 256.37 L47.00 254.72 L47.10 253.13 L47.20 251.60 L47.30 250.12 L47.40 248.69 L47.50 247.30 L47.60 245.96 L47.70 244.66 L47.80 243.40 L47.90 242.18 L48.00 240.98 L48.10 239.83 L48.20 238.70 L48.30 237.60 L48.40 236.52 L48.50 235.48 L48.60 234.45 L48.70 233.46 L48.80 232.48 L48.90 231.53 L49.00 230.60 L49.10 229.68 L49.20 228.79 L49.30 227.91 L49.40 227.05 L49.50 226.21 L49.60 225.39 L49.70 224.58 L49.80 223.78 L49.90 223.00 L50.00 222.24 L50.10 221.48 L50.20 220.74 L50.30 220.01 L50.40 219.30 L50.50 218.60 L50.60 217.90 L50.70 217.22 L50.80 216.55 L50.90 215.89 L51.00 215.24 L51.10 214.60 L51.20 213.97 L51.30 213.35 L51.40 212.73 L51.50 212.13 L51.60 211.53 L51.70 210.94 L51.80 210.36 L51.90 209.79 L52.00 209.23 L52.10 208.67 L52.20 208.12 L52.30 207.58 L52.40 207.04 L52.50 206.51 L52.60 205.98 L52.70 205.47 L52.80 204.96 L52.90 204.45 L53.00 203.95 L53.10 203.46 L53.20 202.97 L53.30 202.49 L53.40 202.01 L53.50 201.54 L53.60 201.07 L53.70 200.61 L53.80 200.15 L53.90 199.70 L54.00 199.25 L54.10 198.81 L54.20 198.37 L54.30 197.94 L54.40 197.51 L54.50 197.08 L54.60 196.66 L54.70 196.25 L54.80 195.83 L54.90 195.42 L55.00 195.02 L55.10 194.62 L55.20 194.22 L55.30 193.83 L55.40 193.44 L55.50 193.05 L55.60 192.67 L55.70 192.29 L55.80 191.91 L55.90 191.54 L56.00 191.16 L56.10 190.80 L56.20 190.43 L56.30 190.07 L56.40 189.71 L56.50 189.36 L56.60 189.01 L56.70 188.66 L56.80 188.31 L56.90 187.97 L57.00 187.63 L57.10 187.29 L57.20 186.95 L57.30 186.62 L57.40 186.29 L57.50 185.96 L57.60 185.64 L57.70 185.31 L57.80 184.99 L57.90 184.68 L58.00 184.36 L58.10 184.05 L58.20 183.73 L58.30 183.43 L58.40 183.12 L58.50 182.81 L58.60 182.51 L58.70 182.21 L58.80 181.91 L58.90 181.62 L59.00 181.32 L59.10 181.03 L59.20 180.74 L59.30 180.45 L59.40 180.16 L59.50 179.88 L59.60 179.60 L59.70 179.32 L59.80 179.04 L59.90 178.76 L60.00 178.48 L60.50 177.13 L61.00 175.82 L61.50 174.55 L62.00 173.32 L62.50 172.12 L63.00 170.95 L63.50 169.81 L64.00 168.70 L64.50 167.62 L65.00 166.57 L65.50 165.54 L66.00 164.54 L66.50 163.55 L67.00 162.59 L67.50 161.66 L68.00 160.74 L68.50 159.84 L69.00 158.96 L69.50 158.09 L70.00 157.25 L70.50 156.41 L71.00 155.60 L71.50 154.80 L72.00 154.02 L72.50 153.24 L73.00 152.49 L73.50 151.74 L74.00 151.01 L74.50 150.29 L75.00 149.58 L75.50 148.89 L76.00 148.20 L76.50 147.53 L77.00 146.86 L77.50 146.21 L78.00 145.57 L78.50 144.93 L79.00 144.31 L79.50 143.69 L80.00 143.08 L80.50 142.48 L81.00 141.89 L81.50 141.31 L82.00 140.73 L82.50 140.16 L83.00 139.60 L83.50 139.05 L84.00 138.50 L84.50 137.96 L85.00 137.43 L85.50 136.90 L86.00 136.38 L86.50 135.87 L87.00 135.36 L87.50 134.86 L88.00 134.36 L88.50 133.87 L89.00 133.39 L89.50 132.91 L90.00 132.43 L90.50 131.96 L91.00 131.50 L91.50 131.04 L92.00 130.58 L92.50 130.13 L93.00 129.69 L93.50 129.25 L94.00 128.81 L94.50 128.38 L95.00 127.95 L95.50 127.53 L96.00 127.11 L96.50 126.70 L97.00 126.28 L97.50 125.88 L98.00 125.47 L98.50 125.07 L99.00 124.68 L99.50 124.28 L100.00 123.89 L100.50 123.51 L101.00 123.13 L101.50 122.75 L102.00 122.37 L102.50 122.00 L103.00 121.63 L103.50 121.26 L104.00 120.90 L104.50 120.54 L105.00 120.18 L105.50 119.83 L106.00 119.48 L106.50 119.13 L107.00 118.78 L107.50 118.44 L108.00 118.10 L108.50 117.76 L109.00 117.43 L109.50 117.09 L110.00 116.77 L110.50 116.44 L111.00 116.11 L111.50 115.79 L112.00 115.47 L112.50 115.15 L113.00 114.84 L113.50 114.52 L114.00 114.21 L114.50 113.90 L115.00 113.60 L115.50 113.29 L116.00 112.99 L116.50 112.69 L117.00 112.39 L117.50 112.09 L118.00 111.80 L118.50 111.51 L119.00 111.22 L119.50 110.93 L120.00 110.64 L122.00 109.52 L124.00 108.42 L126.00 107.34 L128.00 106.30 L130.00 105.28 L132.00 104.28 L134.00 103.30 L136.00 102.35 L138.00 101.41 L140.00 100.50 L142.00 99.60 L144.00 98.73 L146.00 97.87 L148.00 97.02 L150.00 96.19 L152.00 95.38 L154.00 94.58 L156.00 93.80 L158.00 93.03 L160.00 92.28 L162.00 91.53 L164.00 90.80 L166.00 90.08 L168.00 89.37 L170.00 88.68 L172.00 87.99 L174.00 87.32 L176.00 86.65 L178.00 86.00 L180.00 85.35 L182.00 84.72 L184.00 84.09 L186.00 83.47 L188.00 82.86 L190.00 82.26 L192.00 81.67 L194.00 81.08 L196.00 80.51 L198.00 79.94 L200.00 79.37 L202.00 78.82 L204.00 78.27 L206.00 77.73 L208.00 77.19 L210.00 76.66 L212.00 76.14 L214.00 75.62 L216.00 75.11 L218.00 74.61 L220.00 74.11 L222.00 73.61 L224.00 73.12 L226.00 72.64 L228.00 72.16 L230.00 71.69 L232.00 71.22 L234.00 70.76 L236.00 70.30 L238.00 69.85 L240.00 69.40 L242.00 68.96 L244.00 68.52 L246.00 68.08 L248.00 67.65 L250.00 67.22 L252.00 66.80 L254.00 66.38 L256.00 65.96 L258.00 65.55 L260.00 65.14 L262.00 64.74 L264.00 64.34 L266.00 63.94 L268.00 63.55 L270.00 63.16 L272.00 62.77 L274.00 62.39 L276.00 62.01 L278.00 61.63 L280.00 61.26 L282.00 60.88 L284.00 60.52 L286.00 60.15 L288.00 59.79 L290.00 59.43 L292.00 59.07 L294.00 58.72 L296.00 58.37 L298.00 58.02 L300.00 57.68 L302.00 57.34 L304.00 56.99 L306.00 56.66 L308.00 56.32 L310.00 55.99 L312.00 55.66 L314.00 55.33 L316.00 55.01 L318.00 54.68 L320.00 54.36 L322.00 54.04 L324.00 53.73 L326.00 53.41 L328.00 53.10 L330.00 52.79 L332.00 52.48 L334.00 52.18 L336.00 51.87 L338.00 51.57 L340.00 51.27 L342.00 50.97 L344.00 50.68 L346.00 50.39 L348.00 50.09 L350.00 49.80 L352.00 49.51 L354.00 49.23 L356.00 48.94 L358.00 48.66 L360.00 48.38 L362.00 48.10 L364.00 47.82 L366.00 47.55 L368.00 47.27 L370.00 47.00 L372.00 46.73 L374.00 46.46 L376.00 46.19 L378.00 45.92 L380.00 45.66 L382.00 45.39 L384.00 45.13 L386.00 44.87 L388.00 44.61 L390.00 44.35 L392.00 44.10 L394.00 43.84 L396.00 43.59 L398.00 43.34 L400.00 43.09 L402.00 42.84 L404.00 42.59 L406.00 42.34 L408.00 42.10 L410.00 41.85 L412.00 41.61 L414.00 41.37 L416.00 41.13 L418.00 40.89 L420.00 40.65 L422.00 40.41 L424.00 40.18 L426.00 39.94 L428.00 39.71 L430.00 39.48 L432.00 39.25 L434.00 39.02 L436.00 38.79 L438.00 38.56 L440.00 38.34 L442.00 38.11 L444.00 37.89 L446.00 37.66 L448.00 37.44 L450.00 37.22 L452.00 37.00 L454.00 36.78 L456.00 36.56 L458.00 36.34 L460.00 36.13 L462.00 35.91 L464.00 35.70 L466.00 35.49 L468.00 35.27 L470.00 35.06 L472.00 34.85 L474.00 34.64 L476.00 34.44 L478.00 34.23 L480.00 34.02 L482.00 33.82 L484.00 33.61 L486.00 33.41 L488.00 33.20 L490.00 33.00 L492.00 32.80 L494.00 32.60 L496.00 32.40 L498.00 32.20 L500.00 32.00 L502.00 31.81 L504.00 31.61 L506.00 31.41 L508.00 31.22 L510.00 31.02 L512.00 30.83 L514.00 30.64 L516.00 30.45 L518.00 30.26 L520.00 30.07 L522.00 29.88 L524.00 29.69 L526.00 29.50 L528.00 29.31 L530.00 29.13 L532.00 28.94 L534.00 28.75 L536.00 28.57 L538.00 28.39 L540.00 28.20 L542.00 28.02" stroke="#ff9933" stroke-width="1.3" fill="none"/><path d="M45.07 319.24 L45.10 318.65 L45.13 318.06 L45.15 317.47 L45.18 316.88 L45.20 316.28 L45.23 315.69 L45.25 315.09 L45.27 314.49 L45.29 313.89 L45.31 313.29 L45.33 312.69 L45.35 312.08 L45.37 311.48 L45.39 310.87 L45.40 310.27 L45.42 309.66 L45.43 309.05 L45.45 308.44 L45.46 307.82 L45.47 307.21 L45.49 306.60 L45.50 305.98 L45.51 305.36 L45.52 304.74 L45.53 304.13 L45.54 303.50 L45.55 302.88 L45.55 302.26 L45.56 301.64 L45.57 301.01 L45.57 300.39 L45.58 299.76 L45.59 299.13 L45.59 298.50 L45.60 297.87 L45.60 297.24 L45.60 296.61 L45.61 295.97 L45.61 295.34 L45.61 294.70 L45.61 294.07 L45.61 293.43 L45.62 292.79 L45.62 292.15 L45.62 291.51 L45.62 290.87 L45.62 290.23 L45.62 289.58 L45.61 288.94 L45.61 288.29 L45.61 287.65 L45.61 287.00 L45.61 286.35 L45.61 285.71 L45.60 285.06 L45.60 284.41 L45.60 283.76 L45.60 283.10 L45.59 282.45 L45.59 281.80 L45.59 281.14 L45.58 280.49 L45.58 279.83 L45.58 279.18 L45.57 278.52 L45.57 277.86 L45.56 277.20 L45.56 276.54 L45.56 275.88 L45.55 275.22 L45.55 274.56 L45.54 273.90 L45.54 273.23 L45.54 272.57 L45.53 271.91 L45.53 271.24 L45.53 270.58 L45.52 269.91 L45.52 269.24 L45.52 268.58 L45.51 267.91 L45.51 267.24 L45.51 266.57 L45.50 265.90 L45.50 265.23 L45.50 264.56 L45.50 263.89 L45.49 263.22 L45.49 262.54 L45.49 261.87 L45.49 261.20 L45.49 260.52 L45.49 259.85 L45.49 259.18 L45.49 258.50 L45.49 257.83 L45.49 257.15 L45.49 256.47 L45.49 255.80 L45.49 255.12 L45.49 254.44 L45.50 253.76 L45.50 253.08 L45.50 252.41 L45.51 251.73 L45.51 251.05 L45.51 250.37 L45.52 249.69 L45.53 249.01 L45.53 248.33 L45.54 247.65 L45.55 246.96 L45.55 246.28 L45.56 245.60 L45.57 244.92 L45.58 244.24 L45.59 243.55 L45.60 242.87 L45.61 242.19 L45.62 241.51 L45.64 240.82 L45.65 240.14 L45.66 239.46 L45.68 238.77 L45.69 238.09 L45.71 237.40 L45.73 236.72 L45.75 236.04 L45.76 235.35 L45.78 234.67 L45.80 233.98 L45.82 233.30 L45.84 232.61 L45.87 231.93 L45.89 231.24 L45.91 230.56 L45.94 229.87 L45.96 229.19 L45.99 228.50 L46.02 227.82 L46.05 227.13 L46.08 226.45 L46.11 225.76 L46.14 225.08 L46.17 224.39 L46.20 223.71 L46.24 223.03 L46.27 222.34 L46.31 221.66 L46.35 220.97 L46.39 220.29 L46.42 219.60 L46.47 218.92 L46.51 218.24 L46.55 217.55 L46.59 216.87 L46.64 216.19 L46.68 215.50 L46.73 214.82 L46.78 214.14 L46.83 213.45 L46.88 212.77 L46.93 212.09 L46.99 211.41 L47.04 210.73 L47.10 210.05 L47.15 209.36 L47.21 208.68 L47.27 208.00 L47.33 207.32 L47.39 206.64 L47.46 205.96 L47.52 205.29 L47.59 204.61 L47.65 203.93 L47.72 203.25 L47.79 202.57 L47.86 201.89 L47.94 201.22 L48.01 200.54 L48.09 199.87 L48.17 199.19 L48.24 198.51 L48.32 197.84 L48.41 197.17 L48.49 196.49 L48.57 195.82 L48.66 195.15 L48.75 194.47 L48.84 193.80 L48.93 193.13 L49.02 192.46 L49.12 191.79 L49.21 191.12 L49.31 190.45 L49.41 189.78 L49.51 189.11 L49.61 188.45 L49.72 187.78 L49.82 187.11 L49.93 186.45 L50.04 185.78 L50.15 185.12 L50.26 184.45 L50.38 183.79 L50.49 183.13 L50.61 182.47 L50.73 181.81 L50.85 181.15 L50.98 180.49 L51.10 179.83 L51.23 179.17 L51.36 178.51 L51.49 177.85 L51.62 177.20 L51.75 176.54 L51.89 175.89 L52.03 175.24 L52.17 174.58 L52.31 173.93 L52.46 173.28 L52.60 172.63 L52.75 171.98 L52.90 171.33 L53.05 170.68 L53.21 170.04 L53.36 169.39 L53.52 168.75 L53.68 168.10 L53.85 167.46 L54.01 166.82 L54.18 166.17 L54.35 165.53 L54.52 164.89 L54.69 164.26 L54.87 163.62 L55.04 162.98 L55.22 162.35 L55.41 161.71 L55.59 161.08 L55.78 160.44 L55.96 159.81 L56.16 159.18 L56.35 158.55 L56.54 157.92 L56.74 157.30 L56.94 156.67 L57.14 156.04 L57.35 155.42 L57.56 154.80 L57.77 154.18 L57.98 153.56 L58.19 152.94 L58.41 152.32 L58.63 151.70 L58.85 151.08 L59.07 150.47 L59.30 149.85 L59.53 149.24 L59.76 148.63 L59.99 148.02 L60.23 147.41 L60.47 146.80 L60.71 146.20 L60.95 145.59 L61.20 144.99 L61.45 144.39 L61.70 143.78 L61.95 143.18 L62.21 142.59 L62.47 141.99 L62.73 141.39 L63.00 140.80 L63.26 140.20 L63.53 139.61 L63.81 139.02 L64.08 138.43 L64.36 137.85 L64.64 137.26 L64.93 136.67 L65.21 136.09 L65.50 135.51 L65.79 134.93 L66.09 134.35 L66.38 133.77 L66.68 133.19 L66.99 132.62 L67.29 132.05 L67.60 131.47 L67.91 130.90 L68.22 130.33 L68.54 129.77 L68.86 129.20 L69.18 128.64 L69.50 128.07 L69.83 127.51 L70.16 126.95 L70.49 126.39 L70.82 125.84 L71.16 125.28 L71.50 124.73 L71.84 124.18 L72.18 123.63 L72.53 123.08 L72.88 122.53 L73.23 121.98 L73.58 121.44 L73.94 120.90 L74.30 120.36 L74.66 119.82 L75.02 119.28 L75.39 118.75 L75.76 118.21 L76.13 117.68 L76.50 117.15 L76.88 116.62 L77.26 116.09 L77.64 115.57 L78.02 115.04 L78.40 114.52 L78.79 114.00 L79.18 113.48 L79.57 112.97 L79.97 112.45 L80.37 111.94 L80.77 111.43 L81.17 110.92 L81.57 110.41 L81.98 109.90 L82.39 109.40 L82.80 108.90 L83.21 108.39 L83.63 107.90 L84.04 107.40 L84.46 106.90 L84.89 106.41 L85.31 105.92 L85.74 105.43 L86.17 104.94 L86.60 104.46 L87.03 103.97 L87.47 103.49 L87.90 103.01 L88.34 102.53 L88.78 102.06 L89.23 101.58 L89.67 101.11 L90.12 100.64 L90.57 100.17 L91.03 99.70 L91.48 99.24 L91.94 98.78 L92.40 98.32 L92.86 97.86 L93.32 97.40 L93.78 96.95 L94.25 96.49 L94.72 96.04 L95.19 95.59 L95.66 95.15 L96.14 94.70 L96.62 94.26 L97.09 93.82 L97.58 93.38 L98.06 92.95 L98.54 92.51 L99.03 92.08 L99.52 91.65 L100.01 91.22 L100.50 90.80 L101.00 90.37 L101.49 89.95 L101.99 89.53 L102.49 89.12 L102.99 88.70 L103.50 88.29 L104.00 87.88 L104.51 87.47 L105.02 87.06 L105.53 86.66 L106.04 86.26 L106.56 85.86 L107.08 85.46 L107.59 85.06 L108.11 84.67 L108.64 84.28 L109.16 83.89 L109.68 83.50 L110.21 83.11 L110.74 82.73 L111.27 82.35 L111.80 81.97 L112.34 81.59 L112.87 81.21 L113.41 80.84 L113.95 80.47 L114.49 80.10 L115.03 79.73 L115.57 79.36 L116.12 79.00 L116.66 78.64 L117.21 78.28 L117.76 77.92 L118.31 77.56 L118.87 77.21 L119.42 76.85 L119.98 76.50 L120.53 76.15 L121.09 75.80 L121.65 75.46 L122.21 75.12 L122.78 74.77 L123.34 74.43 L123.91 74.09 L124.47 73.76 L125.04 73.42 L125.61 73.09 L126.18 72.76 L126.76 72.43 L127.33 72.10 L127.90 71.78 L128.48 71.45 L129.06 71.13 L129.64 70.81 L130.22 70.49 L130.80 70.17 L131.38 69.86 L131.97 69.54 L132.55 69.23 L133.14 68.92 L133.73 68.61 L134.31 68.30 L134.90 68.00 L135.50 67.69 L136.09 67.39 L136.68 67.09 L137.28 66.79 L137.87 66.49 L138.47 66.19 L139.07 65.90 L139.67 65.61 L140.27 65.31 L140.87 65.02 L141.47 64.74 L142.07 64.45 L142.68 64.16 L143.28 63.88 L143.89 63.60 L144.50 63.32 L145.10 63.04 L145.71 62.76 L146.32 62.48 L146.93 62.21 L147.55 61.94 L148.16 61.66 L148.77 61.39 L149.39 61.12 L150.00 60.86 L150.62 60.59 L151.24 60.32 L151.85 60.06 L152.47 59.80 L153.09 59.54 L153.71 59.28 L154.33 59.02 L154.96 58.76 L155.58 58.51 L156.20 58.25 L156.83 58.00 L157.45 57.75 L158.08 57.50 L158.70 57.25 L159.33 57.00 L159.96 56.76 L160.59 56.51 L161.22 56.27 L161.85 56.03 L162.48 55.79 L163.11 55.55 L163.74 55.31 L164.37 55.07 L165.00 54.83 L165.64 54.60 L166.27 54.37 L166.91 54.13 L167.54 53.90 L168.18 53.67 L168.81 53.44 L169.45 53.22 L170.09 52.99 L170.72 52.76 L171.36 52.54 L172.00 52.32 L172.64 52.09 L173.28 51.87 L173.92 51.65 L174.56 51.43 L175.20 51.22 L175.84 51.00 L176.48 50.78 L177.12 50.57 L177.76 50.35 L178.40 50.14 L179.05 49.93 L179.69 49.72 L180.33 49.51 L180.98 49.30 L181.62 49.09 L182.26 48.89 L182.91 48.68 L183.55 48.48 L184.20 48.27 L184.84 48.07 L185.49 47.87 L186.13 47.67 L186.78 47.47 L187.42 47.27 L188.07 47.07 L188.71 46.88 L189.36 46.68 L190.01 46.48 L190.65 46.29 L191.30 46.10 L191.95 45.90 L192.59 45.71 L193.24 45.52 L193.88 45.33 L194.53 45.14 L195.18 44.95 L195.82 44.77 L196.47 44.58 L197.12 44.39 L197.76 44.21 L198.41 44.02 L199.06 43.84 L199.70 43.66 L200.35 43.47 L201.00 43.29 L201.64 43.11 L202.29 42.93 L202.93 42.75 L203.58 42.57 L204.22 42.39 L204.87 42.22 L205.52 42.04 L206.16 41.87 L206.81 41.69 L207.45 41.52 L208.10 41.34 L208.74 41.17 L209.39 41.00 L210.03 40.83 L210.68 40.65 L211.32 40.48 L211.97 40.31 L212.61 40.15 L213.26 39.98 L213.90 39.81 L214.54 39.64 L215.19 39.48 L215.83 39.31 L216.48 39.15 L217.12 38.98 L217.77 38.82 L218.41 38.66 L219.05 38.49 L219.70 38.33 L220.34 38.17 L220.99 38.01 L221.63 37.85 L222.27 37.69 L222.92 37.53 L223.56 37.37 L224.20 37.22 L224.85 37.06 L225.49 36.90 L226.13 36.75 L226.78 36.59 L227.42 36.44 L228.06 36.28 L228.71 36.13 L229.35 35.98 L229.99 35.82 L230.64 35.67 L231.28 35.52 L231.92 35.37 L232.57 35.22 L233.21 35.07 L233.85 34.92 L234.50 34.77 L235.14 34.62 L235.78 34.48 L236.42 34.33 L237.07 34.18 L237.71 34.04 L238.35 33.89 L238.99 33.75 L239.64 33.60 L240.28 33.46 L240.92 33.31 L241.57 33.17 L242.21 33.03 L242.85 32.89 L243.49 32.75 L244.14 32.60 L244.78 32.46 L245.42 32.32 L246.06 32.18 L246.71 32.04 L247.35 31.91 L247.99 31.77 L248.63 31.63 L249.28 31.49 L249.92 31.35 L250.56 31.22 L251.21 31.08 L251.85 30.95 L252.49 30.81 L253.13 30.68 L253.78 30.54 L254.42 30.41 L255.06 30.27 L255.70 30.14 L256.35 30.01 L256.99 29.87 L257.63 29.74 L258.27 29.61 L258.92 29.48 L259.56 29.35 L260.20 29.22 L260.84 29.09 L261.49 28.96 L262.13 28.83 L262.77 28.70 L263.42 28.57 L264.06 28.44 L264.70 28.31 L265.34 28.18 L265.99 28.06 L266.63 27.93 L267.27 27.80 L267.92 27.68 L268.56 27.55 L269.20 27.42 L269.84 27.30 L270.49 27.17 L271.13 27.05 L271.77 26.92 L272.42 26.80 L273.06 26.67 L273.70 26.55 L274.35 26.43 L274.99 26.30 L275.63 26.18 L276.28 26.06 L276.92 25.93 L277.57 25.81 L278.21 25.69 L278.85 25.57 L279.50 25.45 L280.14 25.33 L280.78 25.20 L281.43 25.08 L282.07 24.96 L282.72 24.84 L283.36 24.72 L284.00 24.60 L284.65 24.48 L285.29 24.36 L285.94 24.24 L286.58 24.13 L287.23 24.01 L287.87 23.89 L288.51 23.77 L289.16 23.65 L289.80 23.53 L290.45 23.41 L291.09 23.30 L291.74 23.18 L292.38 23.06 L293.03 22.94 L293.67 22.83 L294.32 22.71 L294.96 22.59 L295.61 22.48 L296.26 22.36 L296.90 22.24 L297.55 22.13 L298.19 22.01 L298.84 21.90 L299.48 21.78 L300.13 21.66 L300.78 21.55 L301.42 21.43 L302.07 21.32 L302.72 21.20 L303.36 21.09 L304.01 20.97 L304.66 20.86 L305.30 20.74 L305.95 20.63 L306.60 20.51 L307.24 20.40 L307.89 20.28 L308.54 20.17 L309.18 20.05 L309.83 19.94 L310.48 19.82 L311.13 19.71 L311.78 19.59 L312.42 19.48 L313.07 19.37 L313.72 19.25 L314.37 19.14 L315.02 19.02 L315.66 18.91 L316.31 18.79 L316.96 18.68 L317.61 18.57 L318.26 18.45 L318.91 18.34 L319.56 18.22 L320.21 18.11 L320.86 18.00 L321.51 17.88 L322.16 17.77 L322.81 17.65 L323.46 17.54 L324.11 17.42 L324.76 17.31 L325.41 17.20 L326.06 17.08 L326.71 16.97 L327.36 16.85 L328.01 16.74 L328.66 16.62 L329.31 16.51 L329.96 16.39 L330.62 16.28 L331.27 16.16 L331.92 16.05 L332.57 15.93 L333.22 15.82 L333.88 15.70 L334.53 15.59 L335.18 15.47 L335.83 15.36 L336.49 15.24 L337.14 15.12 L337.79 15.01 L338.45 14.89 L339.10 14.78 L339.75 14.66 L340.41 14.54 L341.06 14.43 L341.72 14.31 L342.37 14.19 L343.02 14.08 L343.68 13.96 L344.33 13.84 L344.99 13.72 L345.64 13.61 L346.30 13.49 L346.95 13.37 L347.61 13.25 L348.27 13.13 L348.92 13.01 L349.58 12.90 L350.24 12.78 L350.89 12.66 L351.55 12.54 L352.21 12.42 L352.86 12.30 L353.52 12.18 L354.18 12.06 L354.84 11.94 L355.49 11.82 L356.15 11.70 L356.81 11.58 L357.47 11.45 L358.13 11.33 L358.79 11.21 L359.44 11.09 L360.10 10.97 L360.76 10.84 L361.42 10.72 L362.08 10.60 L362.74 10.47 L363.40 10.35 L364.06 10.23 L364.72 10.10 L365.39 9.98 L366.05 9.85 L366.71 9.73 L367.37 9.60 L368.03 9.48 L368.69 9.35 L369.36 9.22 L370.02 9.10" stroke="#ff33ff" stroke-width="1.3" fill="none"/><path d="M44.40 319.62 L44.43 319.12 L44.46 318.61 L44.49 318.11 L44.52 317.60 L44.55 317.10 L44.58 316.59 L44.61 316.09 L44.63 315.58 L44.66 315.08 L44.69 314.57 L44.71 314.06 L44.73 313.56 L44.76 313.05 L44.78 312.54 L44.80 312.03 L44.82 311.52 L44.85 311.02 L44.87 310.51 L44.88 310.00 L44.90 309.49 L44.92 308.98 L44.94 308.47 L44.96 307.95 L44.97 307.44 L44.99 306.93 L45.00 306.42 L45.02 305.91 L45.03 305.40 L45.05 304.88 L45.06 304.37 L45.07 303.86 L45.08 303.34 L45.10 302.83 L45.11 302.31 L45.12 301.80 L45.13 301.29 L45.14 300.77 L45.14 300.25 L45.15 299.74 L45.16 299.22 L45.17 298.71 L45.17 298.19 L45.18 297.67 L45.19 297.16 L45.19 296.64 L45.20 296.12 L45.20 295.60 L45.21 295.08 L45.21 294.57 L45.21 294.05 L45.21 293.53 L45.22 293.01 L45.22 292.49 L45.22 291.97 L45.22 291.45 L45.22 290.93 L45.22 290.41 L45.22 289.89 L45.22 289.37 L45.22 288.85 L45.22 288.32 L45.22 287.80 L45.22 287.28 L45.21 286.76 L45.21 286.24 L45.21 285.71 L45.21 285.19 L45.20 284.67 L45.20 284.14 L45.19 283.62 L45.19 283.10 L45.18 282.57 L45.18 282.05 L45.17 281.52 L45.17 281.00 L45.16 280.47 L45.16 279.95 L45.15 279.42 L45.14 278.90 L45.14 278.37 L45.13 277.85 L45.12 277.32 L45.11 276.79 L45.11 276.27 L45.10 275.74 L45.09 275.21 L45.08 274.69 L45.07 274.16 L45.07 273.63 L45.06 273.10 L45.05 272.58 L45.04 272.05 L45.03 271.52 L45.02 270.99 L45.01 270.46 L45.00 269.94 L44.99 269.41 L44.98 268.88 L44.97 268.35 L44.96 267.82 L44.95 267.29 L44.94 266.76 L44.93 266.23 L44.92 265.70 L44.91 265.17 L44.89 264.64 L44.88 264.11 L44.87 263.58 L44.86 263.05 L44.85 262.52 L44.84 261.99 L44.83 261.45 L44.82 260.92 L44.81 260.39 L44.80 259.86 L44.78 259.33 L44.77 258.80 L44.76 258.26 L44.75 257.73 L44.74 257.20 L44.73 256.67 L44.72 256.14 L44.71 255.60 L44.69 255.07 L44.68 254.54 L44.67 254.01 L44.66 253.47 L44.65 252.94 L44.64 252.41 L44.63 251.87 L44.62 251.34 L44.61 250.81 L44.60 250.27 L44.59 249.74 L44.58 249.21 L44.57 248.67 L44.56 248.14 L44.55 247.60 L44.54 247.07 L44.53 246.54 L44.52 246.00 L44.51 245.47 L44.50 244.93 L44.49 244.40 L44.48 243.86 L44.48 243.33 L44.47 242.79 L44.46 242.26 L44.45 241.72 L44.44 241.19 L44.44 240.65 L44.43 240.12 L44.42 239.58 L44.42 239.05 L44.41 238.51 L44.40 237.98 L44.40 237.44 L44.39 236.91 L44.39 236.37 L44.38 235.84 L44.38 235.30 L44.37 234.77 L44.37 234.23 L44.36 233.70 L44.36 233.16 L44.36 232.63 L44.35 232.09 L44.35 231.56 L44.35 231.02 L44.34 230.48 L44.34 229.95 L44.34 229.41 L44.34 228.88 L44.34 228.34 L44.34 227.81 L44.34 227.27 L44.34 226.73 L44.34 226.20 L44.34 225.66 L44.34 225.13 L44.35 224.59 L44.35 224.06 L44.35 223.52 L44.35 222.99 L44.36 222.45 L44.36 221.91 L44.37 221.38 L44.37 220.84 L44.38 220.31 L44.38 219.77 L44.39 219.24 L44.40 218.70 L44.41 218.17 L44.41 217.63 L44.42 217.09 L44.43 216.56 L44.44 216.02 L44.45 215.49 L44.46 214.95 L44.47 214.42 L44.48 213.88 L44.50 213.35 L44.51 212.81 L44.52 212.28 L44.54 211.74 L44.55 211.21 L44.57 210.67 L44.58 210.14 L44.60 209.60 L44.61 209.07 L44.63 208.54 L44.65 208.00 L44.67 207.47 L44.69 206.93 L44.71 206.40 L44.73 205.86 L44.75 205.33 L44.77 204.80 L44.79 204.26 L44.82 203.73 L44.84 203.19 L44.86 202.66 L44.89 202.13 L44.91 201.59 L44.94 201.06 L44.97 200.53 L45.00 199.99 L45.03 199.46 L45.05 198.93 L45.08 198.39 L45.12 197.86 L45.15 197.33 L45.18 196.80 L45.21 196.26 L45.25 195.73 L45.28 195.20 L45.32 194.67 L45.35 194.13 L45.39 193.60 L45.43 193.07 L45.47 192.54 L45.50 192.01 L45.54 191.48 L45.59 190.95 L45.63 190.41 L45.67 189.88 L45.71 189.35 L45.76 188.82 L45.80 188.29 L45.85 187.76 L45.90 187.23 L45.94 186.70 L45.99 186.17 L46.04 185.64 L46.09 185.11 L46.14 184.58 L46.19 184.05 L46.25 183.52 L46.30 182.99 L46.36 182.47 L46.41 181.94 L46.47 181.41 L46.53 180.88 L46.59 180.35 L46.64 179.82 L46.71 179.30 L46.77 178.77 L46.83 178.24 L46.89 177.71 L46.96 177.19 L47.02 176.66 L47.09 176.13 L47.16 175.61 L47.22 175.08 L47.29 174.56 L47.36 174.03 L47.44 173.50 L47.51 172.98 L47.58 172.45 L47.66 171.93 L47.73 171.40 L47.81 170.88 L47.89 170.35 L47.97 169.83 L48.05 169.31 L48.13 168.78 L48.21 168.26 L48.29 167.74 L48.38 167.21 L48.46 166.69 L48.55 166.17 L48.64 165.65 L48.72 165.12 L48.81 164.60 L48.91 164.08 L49.00 163.56 L49.09 163.04 L49.19 162.52 L49.28 162.00 L49.38 161.48 L49.48 160.96 L49.58 160.44 L49.68 159.92 L49.78 159.40 L49.88 158.88 L49.99 158.36 L50.09 157.84 L50.20 157.32 L50.31 156.80 L50.41 156.29 L50.52 155.77 L50.64 155.25 L50.75 154.73 L50.86 154.22 L50.98 153.70 L51.09 153.18 L51.21 152.67 L51.33 152.15 L51.45 151.64 L51.57 151.12 L51.70 150.61 L51.82 150.09 L51.95 149.58 L52.07 149.07 L52.20 148.55 L52.33 148.04 L52.46 147.53 L52.60 147.01 L52.73 146.50 L52.87 145.99 L53.00 145.48 L53.14 144.97 L53.28 144.46 L53.42 143.94 L53.56 143.43 L53.71 142.92 L53.85 142.41 L54.00 141.91 L54.14 141.40 L54.29 140.89 L54.44 140.38 L54.60 139.87 L54.75 139.36 L54.90 138.86 L55.06 138.35 L55.22 137.84 L55.37 137.34 L55.53 136.83 L55.70 136.33 L55.86 135.82 L56.02 135.32 L56.19 134.82 L56.36 134.31 L56.52 133.81 L56.69 133.31 L56.86 132.81 L57.04 132.31 L57.21 131.80 L57.39 131.30 L57.56 130.80 L57.74 130.31 L57.92 129.81 L58.10 129.31 L58.28 128.81 L58.47 128.31 L58.65 127.82 L58.84 127.32 L59.03 126.83 L59.21 126.33 L59.40 125.84 L59.60 125.34 L59.79 124.85 L59.98 124.36 L60.18 123.86 L60.38 123.37 L60.58 122.88 L60.78 122.39 L60.98 121.90 L61.18 121.41 L61.39 120.92 L61.59 120.44 L61.80 119.95 L62.01 119.46 L62.22 118.98 L62.43 118.49 L62.64 118.01 L62.86 117.52 L63.07 117.04 L63.29 116.56 L63.51 116.08 L63.73 115.59 L63.95 115.11 L64.17 114.63 L64.39 114.16 L64.62 113.68 L64.84 113.20 L65.07 112.72 L65.30 112.25 L65.53 111.77 L65.77 111.30 L66.00 110.82 L66.23 110.35 L66.47 109.88 L66.71 109.41 L66.95 108.94 L67.19 108.47 L67.43 108.00 L67.67 107.53 L67.92 107.06 L68.16 106.60 L68.41 106.13 L68.66 105.67 L68.91 105.20 L69.16 104.74 L69.42 104.28 L69.67 103.81 L69.93 103.35 L70.18 102.89 L70.44 102.43 L70.70 101.98 L70.97 101.52 L71.23 101.06 L71.49 100.61 L71.76 100.15 L72.03 99.70 L72.29 99.25 L72.56 98.80 L72.84 98.35 L73.11 97.90 L73.38 97.45 L73.66 97.00 L73.94 96.55 L74.21 96.11 L74.49 95.66 L74.78 95.22 L75.06 94.77 L75.34 94.33 L75.63 93.89 L75.92 93.45 L76.20 93.01 L76.49 92.57 L76.78 92.14 L77.08 91.70 L77.37 91.27 L77.67 90.83 L77.96 90.40 L78.26 89.97 L78.56 89.54 L78.86 89.11 L79.17 88.68 L79.47 88.25 L79.77 87.83 L80.08 87.40 L80.39 86.98 L80.70 86.55 L81.01 86.13 L81.32 85.71 L81.64 85.29 L81.95 84.87 L82.27 84.46 L82.59 84.04 L82.91 83.62 L83.23 83.21 L83.55 82.80 L83.87 82.39 L84.20 81.98 L84.52 81.57 L84.85 81.16 L85.18 80.75 L85.51 80.35 L85.84 79.94 L86.18 79.54 L86.51 79.14 L86.85 78.73 L87.19 78.33 L87.52 77.94 L87.86 77.54 L88.21 77.14 L88.55 76.75 L88.89 76.35 L89.24 75.96 L89.59 75.57 L89.93 75.18 L90.28 74.79 L90.63 74.40 L90.99 74.01 L91.34 73.63 L91.69 73.25 L92.05 72.86 L92.41 72.48 L92.77 72.10 L93.13 71.72 L93.49 71.34 L93.85 70.97 L94.21 70.59 L94.58 70.22 L94.95 69.84 L95.31 69.47 L95.68 69.10 L96.05 68.73 L96.42 68.36 L96.80 68.00 L97.17 67.63 L97.55 67.27 L97.92 66.90 L98.30 66.54 L98.68 66.18 L99.06 65.82 L99.44 65.46 L99.82 65.11 L100.21 64.75 L100.59 64.40 L100.98 64.04 L101.36 63.69 L101.75 63.34 L102.14 62.99 L102.53 62.65 L102.93 62.30 L103.32 61.96 L103.71 61.61 L104.11 61.27 L104.51 60.93 L104.90 60.59 L105.30 60.25 L105.70 59.91 L106.11 59.58 L106.51 59.24 L106.91 58.91 L107.32 58.58 L107.72 58.25 L108.13 57.92 L108.54 57.59 L108.95 57.26 L109.36 56.94 L109.77 56.62 L110.18 56.29 L110.60 55.97 L111.01 55.65 L111.43 55.33 L111.85 55.02 L112.27 54.70 L112.69 54.39 L113.11 54.07 L113.53 53.76 L113.95 53.45 L114.38 53.14 L114.80 52.84 L115.23 52.53 L115.65 52.23 L116.08 51.92 L116.51 51.62 L116.94 51.32 L117.37 51.02 L117.81 50.72 L118.24 50.43 L118.67 50.13 L119.11 49.84 L119.55 49.55 L119.98 49.26 L120.42 48.97 L120.86 48.68 L121.30 48.40 L121.74 48.11 L122.19 47.83 L122.63 47.54 L123.07 47.26 L123.52 46.98 L123.97 46.71 L124.41 46.43 L124.86 46.16 L125.31 45.88 L125.76 45.61 L126.21 45.34 L126.67 45.07 L127.12 44.80 L127.57 44.53 L128.03 44.27 L128.49 44.00 L128.94 43.74 L129.40 43.48 L129.86 43.22 L130.32 42.96 L130.78 42.70 L131.24 42.45 L131.70 42.19 L132.17 41.94 L132.63 41.68 L133.09 41.43 L133.56 41.18 L134.03 40.93 L134.49 40.69 L134.96 40.44 L135.43 40.20 L135.90 39.95 L136.37 39.71 L136.84 39.47 L137.31 39.23 L137.79 38.99 L138.26 38.75 L138.73 38.52 L139.21 38.28 L139.69 38.05 L140.16 37.82 L140.64 37.59 L141.12 37.36 L141.60 37.13 L142.08 36.90 L142.56 36.67 L143.04 36.45 L143.52 36.22 L144.00 36.00 L144.48 35.78 L144.97 35.56 L145.45 35.34 L145.94 35.12 L146.42 34.91 L146.91 34.69 L147.40 34.48 L147.89 34.26 L148.37 34.05 L148.86 33.84 L149.35 33.63 L149.84 33.42 L150.33 33.21 L150.83 33.01 L151.32 32.80 L151.81 32.60 L152.30 32.39 L152.80 32.19 L153.29 31.99 L153.79 31.79 L154.28 31.59 L154.78 31.39 L155.27 31.20 L155.77 31.00 L156.27 30.80 L156.77 30.61 L157.27 30.42 L157.77 30.23 L158.27 30.04 L158.77 29.85 L159.27 29.66 L159.77 29.47 L160.27 29.29 L160.77 29.10 L161.28 28.92 L161.78 28.73 L162.28 28.55 L162.79 28.37 L163.29 28.19 L163.80 28.01 L164.30 27.83 L164.81 27.66 L165.31 27.48 L165.82 27.30 L166.33 27.13 L166.83 26.96 L167.34 26.79 L167.85 26.61 L168.36 26.44 L168.87 26.27 L169.38 26.11 L169.89 25.94 L170.40 25.77 L170.91 25.61 L171.42 25.44 L171.93 25.28 L172.44 25.12 L172.95 24.95 L173.47 24.79 L173.98 24.63 L174.49 24.47 L175.00 24.31 L175.52 24.16 L176.03 24.00 L176.55 23.85 L177.06 23.69 L177.57 23.54 L178.09 23.38 L178.60 23.23 L179.12 23.08 L179.63 22.93 L180.15 22.78 L180.67 22.63 L181.18 22.48 L181.70 22.34 L182.21 22.19 L182.73 22.05 L183.25 21.90 L183.77 21.76 L184.28 21.62 L184.80 21.47 L185.32 21.33 L185.84 21.19 L186.35 21.05 L186.87 20.91 L187.39 20.78 L187.91 20.64 L188.43 20.50 L188.95 20.37 L189.46 20.23 L189.98 20.10 L190.50 19.96 L191.02 19.83 L191.54 19.70 L192.06 19.57 L192.58 19.44 L193.10 19.31 L193.62 19.18 L194.14 19.05 L194.66 18.92 L195.18 18.80 L195.70 18.67 L196.22 18.54 L196.74 18.42 L197.26 18.30 L197.78 18.17 L198.30 18.05 L198.82 17.93 L199.33 17.81 L199.85 17.69 L200.37 17.57 L200.89 17.45 L201.41 17.33 L201.93 17.21 L202.45 17.09 L202.97 16.98 L203.49 16.86 L204.01 16.75 L204.53 16.63 L205.05 16.52 L205.57 16.41 L206.09 16.29 L206.61 16.18 L207.13 16.07 L207.65 15.96 L208.16 15.85 L208.68 15.74 L209.20 15.63 L209.72 15.52 L210.24 15.41 L210.76 15.31 L211.27 15.20 L211.79 15.09 L212.31 14.99 L212.83 14.88 L213.34 14.78 L213.86 14.67 L214.38 14.57 L214.89 14.47 L215.41 14.37 L215.93 14.26 L216.44 14.16 L216.96 14.06 L217.47 13.96 L217.99 13.86 L218.50 13.76 L219.02 13.66 L219.53 13.57 L220.05 13.47 L220.56 13.37 L221.08 13.27 L221.59 13.18 L222.10 13.08 L222.61 12.99 L223.13 12.89 L223.64 12.80 L224.15 12.71 L224.66 12.61 L225.17 12.52 L225.69 12.43 L226.20 12.33 L226.71 12.24 L227.22 12.15 L227.73 12.06 L228.24 11.97 L228.74 11.88 L229.25 11.79 L229.76 11.70 L230.27 11.61 L230.78 11.53 L231.28 11.44 L231.79 11.35 L232.29 11.26 L232.80 11.18 L233.31 11.09 L233.81 11.00 L234.31 10.92 L234.82 10.83 L235.32 10.75 L235.82 10.67 L236.33 10.58 L236.83 10.50 L237.33 10.41 L237.83 10.33 L238.33 10.25 L238.83 10.17 L239.33 10.08 L239.83 10.00" stroke="#c0504d" stroke-width="1.3" fill="none"/></g>
<g clip-path="url(#pa)"><g fill="#00c400"><circle cx="341.0" cy="131.1" r="2.40"/><circle cx="352.3" cy="132.2" r="2.40"/><circle cx="320.8" cy="139.2" r="2.40"/><circle cx="378.8" cy="125.9" r="2.40"/><circle cx="384.7" cy="130.7" r="2.40"/><circle cx="386.9" cy="130.7" r="2.40"/><circle cx="396.4" cy="129.6" r="2.40"/><circle cx="396.2" cy="134.6" r="2.40"/><circle cx="354.6" cy="133.6" r="2.40"/><circle cx="360.4" cy="135.7" r="2.40"/><circle cx="350.9" cy="140.1" r="2.40"/><circle cx="360.1" cy="144.8" r="2.40"/><circle cx="370.7" cy="145.1" r="2.40"/><circle cx="368.4" cy="147.7" r="2.40"/><circle cx="382.5" cy="148.9" r="2.40"/><circle cx="399.9" cy="145.1" r="2.40"/><circle cx="413.9" cy="117.8" r="2.40"/><circle cx="418.6" cy="120.7" r="2.40"/><circle cx="420.9" cy="122.2" r="2.40"/><circle cx="424.6" cy="121.8" r="2.40"/><circle cx="438.5" cy="116.7" r="2.40"/><circle cx="412.3" cy="124.0" r="2.40"/><circle cx="412.3" cy="132.4" r="2.40"/><circle cx="426.2" cy="138.5" r="2.40"/><circle cx="101.4" cy="204.4" r="2.40"/><circle cx="104.3" cy="204.4" r="2.40"/><circle cx="107.2" cy="204.4" r="2.40"/><circle cx="112.9" cy="204.4" r="2.40"/><circle cx="115.8" cy="204.4" r="2.40"/><circle cx="118.6" cy="204.4" r="2.40"/><circle cx="121.5" cy="204.4" r="2.40"/><circle cx="125.1" cy="204.4" r="2.40"/><circle cx="133.7" cy="204.4" r="2.40"/><circle cx="101.4" cy="215.1" r="2.40"/><circle cx="107.9" cy="215.1" r="2.40"/><circle cx="111.5" cy="215.1" r="2.40"/><circle cx="115.0" cy="215.1" r="2.40"/><circle cx="117.9" cy="215.1" r="2.40"/><circle cx="120.8" cy="215.1" r="2.40"/><circle cx="123.6" cy="215.1" r="2.40"/><circle cx="187.4" cy="165.2" r="2.40"/><circle cx="190.2" cy="165.2" r="2.40"/><circle cx="193.0" cy="165.2" r="2.40"/><circle cx="197.5" cy="165.2" r="2.40"/><circle cx="203.6" cy="165.2" r="2.40"/><circle cx="209.7" cy="165.2" r="2.40"/><circle cx="212.6" cy="165.2" r="2.40"/><circle cx="195.2" cy="161.3" r="2.40"/><circle cx="171.8" cy="171.3" r="2.40"/><circle cx="177.3" cy="171.3" r="2.40"/><circle cx="180.1" cy="171.3" r="2.40"/><circle cx="185.2" cy="171.3" r="2.40"/><circle cx="191.3" cy="171.3" r="2.40"/><circle cx="198.6" cy="171.3" r="2.40"/><circle cx="206.4" cy="171.3" r="2.40"/><circle cx="211.6" cy="171.3" r="2.40"/><circle cx="169.2" cy="176.5" r="2.40"/><circle cx="172.2" cy="181.5" r="2.40"/><circle cx="176.5" cy="181.5" r="2.40"/><circle cx="181.5" cy="181.5" r="2.40"/><circle cx="187.2" cy="181.5" r="2.40"/><circle cx="193.7" cy="180.7" r="2.40"/><circle cx="196.5" cy="183.6" r="2.40"/><circle cx="204.4" cy="181.5" r="2.40"/><circle cx="208.0" cy="181.5" r="2.40"/><circle cx="177.2" cy="184.3" r="2.40"/><circle cx="187.2" cy="183.6" r="2.40"/><circle cx="172.2" cy="191.5" r="2.40"/><circle cx="187.2" cy="191.5" r="2.40"/><circle cx="191.5" cy="191.5" r="2.40"/><circle cx="207.3" cy="188.6" r="2.40"/><circle cx="242.4" cy="150.1" r="2.40"/><circle cx="249.1" cy="150.6" r="2.40"/><circle cx="261.4" cy="146.2" r="2.40"/><circle cx="263.6" cy="149.0" r="2.40"/><circle cx="259.2" cy="151.2" r="2.40"/><circle cx="262.0" cy="153.4" r="2.40"/><circle cx="265.5" cy="155.9" r="2.40"/><circle cx="264.7" cy="157.9" r="2.40"/><circle cx="221.2" cy="160.7" r="2.40"/><circle cx="244.6" cy="156.2" r="2.40"/><circle cx="249.1" cy="155.7" r="2.40"/><circle cx="251.3" cy="157.3" r="2.40"/><circle cx="246.9" cy="157.9" r="2.40"/><circle cx="230.1" cy="161.3" r="2.40"/><circle cx="235.1" cy="161.3" r="2.40"/><circle cx="253.0" cy="161.3" r="2.40"/><circle cx="235.1" cy="165.2" r="2.40"/><circle cx="237.4" cy="166.3" r="2.40"/><circle cx="240.2" cy="165.2" r="2.40"/><circle cx="265.1" cy="165.2" r="2.40"/><circle cx="216.1" cy="165.2" r="2.40"/><circle cx="216.8" cy="171.4" r="2.40"/><circle cx="245.2" cy="171.3" r="2.40"/><circle cx="253.6" cy="171.3" r="2.40"/><circle cx="255.0" cy="171.6" r="2.40"/><circle cx="210.0" cy="181.5" r="2.40"/><circle cx="219.0" cy="181.5" r="2.40"/><circle cx="223.1" cy="181.5" r="2.40"/><circle cx="232.1" cy="183.9" r="2.40"/><circle cx="271.7" cy="145.1" r="2.40"/><circle cx="274.5" cy="143.9" r="2.40"/><circle cx="277.3" cy="143.4" r="2.40"/><circle cx="290.7" cy="140.6" r="2.40"/><circle cx="294.6" cy="142.3" r="2.40"/><circle cx="290.7" cy="145.6" r="2.40"/><circle cx="303.0" cy="141.1" r="2.40"/><circle cx="306.9" cy="140.0" r="2.40"/><circle cx="310.8" cy="141.1" r="2.40"/><circle cx="310.8" cy="145.6" r="2.40"/><circle cx="265.6" cy="149.0" r="2.40"/><circle cx="266.1" cy="152.9" r="2.40"/><circle cx="271.1" cy="155.1" r="2.40"/><circle cx="276.7" cy="149.5" r="2.40"/><circle cx="281.2" cy="152.9" r="2.40"/><circle cx="289.0" cy="152.9" r="2.40"/><circle cx="317.0" cy="151.2" r="2.40"/><circle cx="323.5" cy="152.8" r="2.40"/><circle cx="310.8" cy="155.1" r="2.40"/><circle cx="318.6" cy="157.9" r="2.40"/><circle cx="276.7" cy="161.3" r="2.40"/><circle cx="303.0" cy="160.7" r="2.40"/><circle cx="329.7" cy="138.2" r="2.40"/><circle cx="331.9" cy="141.2" r="2.40"/><circle cx="330.4" cy="143.4" r="2.40"/><circle cx="334.9" cy="144.9" r="2.40"/><circle cx="338.6" cy="141.9" r="2.40"/><circle cx="344.6" cy="139.7" r="2.40"/><circle cx="340.9" cy="147.9" r="2.40"/><circle cx="344.6" cy="146.4" r="2.40"/><circle cx="331.2" cy="149.4" r="2.40"/><circle cx="350.6" cy="150.9" r="2.40"/><circle cx="382.6" cy="151.6" r="2.40"/><circle cx="342.4" cy="157.6" r="2.40"/><circle cx="471.7" cy="128.9" r="2.40"/><circle cx="90.2" cy="229.1" r="2.40"/><circle cx="82.0" cy="248.5" r="2.40"/><circle cx="64.0" cy="270.9" r="2.40"/><circle cx="477.4" cy="119.0" r="2.40"/><circle cx="121.4" cy="191.9" r="2.40"/><circle cx="127.4" cy="191.5" r="2.40"/><circle cx="115.5" cy="194.5" r="2.40"/><circle cx="115.5" cy="197.1" r="2.40"/><circle cx="112.1" cy="198.6" r="2.40"/><circle cx="126.3" cy="198.6" r="2.40"/><circle cx="131.5" cy="194.3" r="2.40"/><circle cx="134.0" cy="188.6" r="2.40"/><circle cx="135.2" cy="185.6" r="2.40"/><circle cx="145.3" cy="181.4" r="2.40"/><circle cx="153.5" cy="181.4" r="2.40"/><circle cx="161.3" cy="181.4" r="2.40"/><circle cx="168.0" cy="181.1" r="2.40"/><circle cx="145.6" cy="186.7" r="2.40"/><circle cx="149.4" cy="186.7" r="2.40"/><circle cx="156.8" cy="184.4" r="2.40"/><circle cx="155.3" cy="187.4" r="2.40"/><circle cx="153.8" cy="190.0" r="2.40"/><circle cx="162.0" cy="188.9" r="2.40"/><circle cx="165.0" cy="184.4" r="2.40"/><circle cx="168.7" cy="186.3" r="2.40"/><circle cx="139.7" cy="191.5" r="2.40"/><circle cx="141.9" cy="191.9" r="2.40"/><circle cx="135.2" cy="194.5" r="2.40"/><circle cx="138.9" cy="194.1" r="2.40"/><circle cx="143.4" cy="194.5" r="2.40"/><circle cx="149.4" cy="194.5" r="2.40"/><circle cx="156.8" cy="194.5" r="2.40"/><circle cx="161.3" cy="194.5" r="2.40"/><circle cx="168.7" cy="191.5" r="2.40"/><circle cx="133.0" cy="198.6" r="2.40"/><circle cx="141.2" cy="198.6" r="2.40"/><circle cx="151.2" cy="198.6" r="2.40"/><circle cx="167.2" cy="198.6" r="2.40"/><circle cx="223.1" cy="152.7" r="2.40"/><circle cx="229.0" cy="152.7" r="2.40"/><circle cx="217.1" cy="155.3" r="2.40"/><circle cx="220.8" cy="157.2" r="2.40"/><circle cx="237.2" cy="156.8" r="2.40"/><circle cx="238.7" cy="150.1" r="2.40"/></g><g fill="#00f000"><circle cx="483.9" cy="75.6" r="2.40"/><circle cx="500.1" cy="74.1" r="2.40"/><circle cx="518.5" cy="73.2" r="2.40"/><circle cx="185.5" cy="130.5" r="2.40"/><circle cx="175.4" cy="135.1" r="2.40"/><circle cx="181.3" cy="137.7" r="2.40"/><circle cx="188.1" cy="137.7" r="2.40"/><circle cx="192.9" cy="138.7" r="2.40"/><circle cx="209.6" cy="124.3" r="2.40"/><circle cx="215.0" cy="124.1" r="2.40"/><circle cx="218.8" cy="125.8" r="2.40"/><circle cx="211.0" cy="128.3" r="2.40"/><circle cx="215.8" cy="128.7" r="2.40"/><circle cx="219.1" cy="131.2" r="2.40"/><circle cx="223.1" cy="120.2" r="2.40"/><circle cx="227.1" cy="123.5" r="2.40"/><circle cx="233.1" cy="117.1" r="2.40"/><circle cx="236.7" cy="115.8" r="2.40"/><circle cx="241.3" cy="117.8" r="2.40"/><circle cx="236.8" cy="125.4" r="2.40"/><circle cx="230.9" cy="128.6" r="2.40"/><circle cx="233.6" cy="129.8" r="2.40"/><circle cx="238.8" cy="128.3" r="2.40"/><circle cx="242.2" cy="126.9" r="2.40"/><circle cx="229.0" cy="131.6" r="2.40"/><circle cx="240.4" cy="132.4" r="2.40"/><circle cx="250.7" cy="114.0" r="2.40"/><circle cx="255.2" cy="114.5" r="2.40"/><circle cx="261.3" cy="111.2" r="2.40"/><circle cx="260.8" cy="114.0" r="2.40"/><circle cx="266.9" cy="111.2" r="2.40"/><circle cx="273.6" cy="112.8" r="2.40"/><circle cx="277.5" cy="112.3" r="2.40"/><circle cx="282.5" cy="114.0" r="2.40"/><circle cx="287.0" cy="111.7" r="2.40"/><circle cx="290.9" cy="106.7" r="2.40"/><circle cx="293.7" cy="108.4" r="2.40"/><circle cx="296.3" cy="104.7" r="2.40"/><circle cx="297.6" cy="111.2" r="2.40"/><circle cx="299.9" cy="107.9" r="2.40"/><circle cx="303.6" cy="105.2" r="2.40"/><circle cx="302.7" cy="113.4" r="2.40"/><circle cx="280.9" cy="107.3" r="2.40"/><circle cx="244.9" cy="116.8" r="2.40"/><circle cx="257.4" cy="120.7" r="2.40"/><circle cx="260.8" cy="119.6" r="2.40"/><circle cx="268.0" cy="117.3" r="2.40"/><circle cx="270.8" cy="119.6" r="2.40"/><circle cx="275.8" cy="115.6" r="2.40"/><circle cx="277.5" cy="119.6" r="2.40"/><circle cx="283.1" cy="119.0" r="2.40"/><circle cx="286.5" cy="120.7" r="2.40"/><circle cx="290.9" cy="120.1" r="2.40"/><circle cx="293.2" cy="121.2" r="2.40"/><circle cx="298.7" cy="116.8" r="2.40"/><circle cx="263.0" cy="122.9" r="2.40"/><circle cx="246.1" cy="126.0" r="2.40"/><circle cx="252.9" cy="128.5" r="2.40"/><circle cx="263.6" cy="129.6" r="2.40"/><circle cx="268.6" cy="126.3" r="2.40"/><circle cx="273.0" cy="129.0" r="2.40"/><circle cx="277.5" cy="128.5" r="2.40"/><circle cx="280.9" cy="129.0" r="2.40"/><circle cx="288.1" cy="129.6" r="2.40"/><circle cx="292.6" cy="131.8" r="2.40"/><circle cx="296.3" cy="130.4" r="2.40"/><circle cx="302.7" cy="130.2" r="2.40"/><circle cx="245.8" cy="133.5" r="2.40"/><circle cx="251.3" cy="137.6" r="2.40"/><circle cx="255.2" cy="137.6" r="2.40"/><circle cx="261.1" cy="135.9" r="2.40"/><circle cx="273.6" cy="132.4" r="2.40"/><circle cx="277.4" cy="136.5" r="2.40"/><circle cx="280.5" cy="136.2" r="2.40"/><circle cx="286.5" cy="133.0" r="2.40"/><circle cx="294.7" cy="135.6" r="2.40"/><circle cx="310.9" cy="101.9" r="2.40"/><circle cx="318.6" cy="105.5" r="2.40"/><circle cx="322.1" cy="101.2" r="2.40"/><circle cx="324.2" cy="98.4" r="2.40"/><circle cx="327.0" cy="99.1" r="2.40"/><circle cx="328.4" cy="104.1" r="2.40"/><circle cx="334.7" cy="103.3" r="2.40"/><circle cx="336.2" cy="100.5" r="2.40"/><circle cx="340.4" cy="96.3" r="2.40"/><circle cx="340.4" cy="101.2" r="2.40"/><circle cx="344.2" cy="104.8" r="2.40"/><circle cx="346.7" cy="105.5" r="2.40"/><circle cx="351.4" cy="99.2" r="2.40"/><circle cx="351.6" cy="106.2" r="2.40"/><circle cx="295.4" cy="111.1" r="2.40"/><circle cx="299.6" cy="112.5" r="2.40"/><circle cx="303.8" cy="110.4" r="2.40"/><circle cx="312.3" cy="108.3" r="2.40"/><circle cx="314.0" cy="111.4" r="2.40"/><circle cx="318.6" cy="112.5" r="2.40"/><circle cx="324.9" cy="109.7" r="2.40"/><circle cx="330.5" cy="109.0" r="2.40"/><circle cx="336.2" cy="109.7" r="2.40"/><circle cx="341.1" cy="112.2" r="2.40"/><circle cx="295.4" cy="117.4" r="2.40"/><circle cx="301.0" cy="116.0" r="2.40"/><circle cx="307.3" cy="117.4" r="2.40"/><circle cx="311.6" cy="117.1" r="2.40"/><circle cx="316.5" cy="119.5" r="2.40"/><circle cx="327.0" cy="114.6" r="2.40"/><circle cx="342.5" cy="116.0" r="2.40"/><circle cx="351.0" cy="116.0" r="2.40"/><circle cx="307.3" cy="123.0" r="2.40"/><circle cx="311.6" cy="122.3" r="2.40"/><circle cx="314.4" cy="122.3" r="2.40"/><circle cx="320.4" cy="122.3" r="2.40"/><circle cx="334.7" cy="120.2" r="2.40"/><circle cx="339.0" cy="121.6" r="2.40"/><circle cx="343.2" cy="122.3" r="2.40"/><circle cx="348.1" cy="121.6" r="2.40"/><circle cx="305.2" cy="126.5" r="2.40"/><circle cx="308.1" cy="129.3" r="2.40"/><circle cx="313.7" cy="127.9" r="2.40"/><circle cx="317.2" cy="130.0" r="2.40"/><circle cx="322.8" cy="129.3" r="2.40"/><circle cx="328.4" cy="128.6" r="2.40"/><circle cx="334.7" cy="127.9" r="2.40"/><circle cx="352.2" cy="127.6" r="2.40"/><circle cx="302.4" cy="132.2" r="2.40"/><circle cx="306.5" cy="135.3" r="2.40"/><circle cx="314.9" cy="134.7" r="2.40"/><circle cx="329.8" cy="137.8" r="2.40"/><circle cx="376.3" cy="90.5" r="2.40"/><circle cx="382.4" cy="91.6" r="2.40"/><circle cx="389.1" cy="91.1" r="2.40"/><circle cx="392.5" cy="88.8" r="2.40"/><circle cx="400.3" cy="90.0" r="2.40"/><circle cx="409.6" cy="86.7" r="2.40"/><circle cx="352.8" cy="96.1" r="2.40"/><circle cx="356.7" cy="96.7" r="2.40"/><circle cx="360.6" cy="93.9" r="2.40"/><circle cx="365.1" cy="96.7" r="2.40"/><circle cx="367.9" cy="92.8" r="2.40"/><circle cx="372.3" cy="96.1" r="2.40"/><circle cx="375.7" cy="93.9" r="2.40"/><circle cx="378.5" cy="96.1" r="2.40"/><circle cx="382.4" cy="97.8" r="2.40"/><circle cx="385.8" cy="95.6" r="2.40"/><circle cx="390.8" cy="97.2" r="2.40"/><circle cx="396.9" cy="96.1" r="2.40"/><circle cx="400.8" cy="94.4" r="2.40"/><circle cx="405.9" cy="96.1" r="2.40"/><circle cx="409.4" cy="93.4" r="2.40"/><circle cx="355.0" cy="100.0" r="2.40"/><circle cx="358.9" cy="102.8" r="2.40"/><circle cx="364.5" cy="99.5" r="2.40"/><circle cx="371.8" cy="100.0" r="2.40"/><circle cx="374.0" cy="101.7" r="2.40"/><circle cx="378.5" cy="100.0" r="2.40"/><circle cx="383.5" cy="100.6" r="2.40"/><circle cx="388.5" cy="100.0" r="2.40"/><circle cx="386.9" cy="103.4" r="2.40"/><circle cx="395.8" cy="100.0" r="2.40"/><circle cx="398.6" cy="101.7" r="2.40"/><circle cx="402.5" cy="99.5" r="2.40"/><circle cx="405.9" cy="101.7" r="2.40"/><circle cx="409.2" cy="99.5" r="2.40"/><circle cx="355.6" cy="107.3" r="2.40"/><circle cx="372.3" cy="106.2" r="2.40"/><circle cx="382.4" cy="106.2" r="2.40"/><circle cx="386.9" cy="106.2" r="2.40"/><circle cx="391.9" cy="108.4" r="2.40"/><circle cx="407.7" cy="107.7" r="2.40"/><circle cx="352.2" cy="109.5" r="2.40"/><circle cx="358.4" cy="111.8" r="2.40"/><circle cx="370.7" cy="112.0" r="2.40"/><circle cx="384.6" cy="114.2" r="2.40"/><circle cx="408.2" cy="109.8" r="2.40"/><circle cx="406.3" cy="113.8" r="2.40"/><circle cx="358.4" cy="114.5" r="2.40"/><circle cx="354.5" cy="120.6" r="2.40"/><circle cx="362.8" cy="120.6" r="2.40"/><circle cx="374.6" cy="120.6" r="2.40"/><circle cx="358.9" cy="124.5" r="2.40"/><circle cx="364.0" cy="127.9" r="2.40"/><circle cx="403.1" cy="116.7" r="2.40"/><circle cx="408.5" cy="116.2" r="2.40"/><circle cx="420.1" cy="83.4" r="2.40"/><circle cx="426.2" cy="85.6" r="2.40"/><circle cx="432.4" cy="84.0" r="2.40"/><circle cx="434.6" cy="85.1" r="2.40"/><circle cx="428.5" cy="88.4" r="2.40"/><circle cx="445.2" cy="85.1" r="2.40"/><circle cx="450.3" cy="84.0" r="2.40"/><circle cx="460.2" cy="84.8" r="2.40"/><circle cx="458.1" cy="80.6" r="2.40"/><circle cx="463.8" cy="79.9" r="2.40"/><circle cx="412.8" cy="90.1" r="2.40"/><circle cx="406.7" cy="92.3" r="2.40"/><circle cx="419.5" cy="93.5" r="2.40"/><circle cx="421.8" cy="92.3" r="2.40"/><circle cx="428.5" cy="93.5" r="2.40"/><circle cx="434.1" cy="91.8" r="2.40"/><circle cx="432.4" cy="95.1" r="2.40"/><circle cx="439.6" cy="97.4" r="2.40"/><circle cx="448.0" cy="96.8" r="2.40"/><circle cx="451.9" cy="92.9" r="2.40"/><circle cx="455.3" cy="96.8" r="2.40"/><circle cx="460.6" cy="93.0" r="2.40"/><circle cx="407.2" cy="97.9" r="2.40"/><circle cx="415.6" cy="97.4" r="2.40"/><circle cx="415.6" cy="100.2" r="2.40"/><circle cx="422.3" cy="99.1" r="2.40"/><circle cx="410.6" cy="101.8" r="2.40"/><circle cx="426.2" cy="102.4" r="2.40"/><circle cx="432.4" cy="102.4" r="2.40"/><circle cx="438.5" cy="102.4" r="2.40"/><circle cx="438.2" cy="104.8" r="2.40"/><circle cx="416.2" cy="106.2" r="2.40"/><circle cx="422.3" cy="106.5" r="2.40"/><circle cx="430.7" cy="107.6" r="2.40"/><circle cx="460.5" cy="105.3" r="2.40"/><circle cx="422.3" cy="112.3" r="2.40"/><circle cx="425.1" cy="113.4" r="2.40"/><circle cx="428.5" cy="110.6" r="2.40"/><circle cx="434.6" cy="113.4" r="2.40"/><circle cx="418.4" cy="116.2" r="2.40"/><circle cx="470.3" cy="78.9" r="2.40"/><circle cx="468.7" cy="87.6" r="2.40"/><circle cx="479.7" cy="86.8" r="2.40"/><circle cx="479.7" cy="89.2" r="2.40"/><circle cx="483.7" cy="89.2" r="2.40"/><circle cx="483.7" cy="91.5" r="2.40"/><circle cx="486.0" cy="95.5" r="2.40"/><circle cx="492.3" cy="94.7" r="2.40"/><circle cx="479.7" cy="99.4" r="2.40"/><circle cx="497.9" cy="101.3" r="2.40"/><circle cx="523.1" cy="102.3" r="2.40"/><circle cx="71.5" cy="204.4" r="2.40"/><circle cx="74.5" cy="204.4" r="2.40"/><circle cx="79.5" cy="204.4" r="2.40"/><circle cx="82.0" cy="204.4" r="2.40"/><circle cx="91.3" cy="204.4" r="2.40"/><circle cx="95.6" cy="204.4" r="2.40"/><circle cx="99.1" cy="204.4" r="2.40"/><circle cx="102.7" cy="204.4" r="2.40"/><circle cx="66.0" cy="215.1" r="2.40"/><circle cx="69.0" cy="215.1" r="2.40"/><circle cx="72.0" cy="215.1" r="2.40"/><circle cx="75.0" cy="215.1" r="2.40"/><circle cx="78.0" cy="215.1" r="2.40"/><circle cx="81.0" cy="215.1" r="2.40"/><circle cx="84.0" cy="215.1" r="2.40"/><circle cx="87.0" cy="215.1" r="2.40"/><circle cx="89.8" cy="215.1" r="2.40"/><circle cx="94.8" cy="215.1" r="2.40"/><circle cx="97.7" cy="215.1" r="2.40"/><circle cx="102.7" cy="215.1" r="2.40"/><circle cx="79.1" cy="192.9" r="2.40"/><circle cx="81.2" cy="195.8" r="2.40"/><circle cx="82.0" cy="199.4" r="2.40"/><circle cx="88.4" cy="192.2" r="2.40"/><circle cx="91.3" cy="182.9" r="2.40"/><circle cx="93.4" cy="185.0" r="2.40"/><circle cx="89.8" cy="187.9" r="2.40"/><circle cx="94.8" cy="191.5" r="2.40"/><circle cx="91.3" cy="195.8" r="2.40"/><circle cx="94.1" cy="195.1" r="2.40"/><circle cx="91.3" cy="199.4" r="2.40"/><circle cx="149.7" cy="143.9" r="2.40"/><circle cx="159.3" cy="147.8" r="2.40"/><circle cx="135.8" cy="151.2" r="2.40"/><circle cx="139.7" cy="149.5" r="2.40"/><circle cx="125.7" cy="155.1" r="2.40"/><circle cx="139.7" cy="157.9" r="2.40"/><circle cx="149.7" cy="155.1" r="2.40"/><circle cx="133.5" cy="161.3" r="2.40"/><circle cx="147.5" cy="161.3" r="2.40"/><circle cx="153.6" cy="161.3" r="2.40"/><circle cx="125.7" cy="165.2" r="2.40"/><circle cx="133.5" cy="165.2" r="2.40"/><circle cx="151.4" cy="165.2" r="2.40"/><circle cx="157.3" cy="165.2" r="2.40"/><circle cx="106.1" cy="171.3" r="2.40"/><circle cx="117.3" cy="171.3" r="2.40"/><circle cx="125.7" cy="171.3" r="2.40"/><circle cx="129.6" cy="171.3" r="2.40"/><circle cx="135.2" cy="171.3" r="2.40"/><circle cx="139.1" cy="171.3" r="2.40"/><circle cx="145.3" cy="171.3" r="2.40"/><circle cx="155.7" cy="171.3" r="2.40"/><circle cx="185.2" cy="138.4" r="2.40"/><circle cx="179.0" cy="142.8" r="2.40"/><circle cx="181.8" cy="145.6" r="2.40"/><circle cx="185.2" cy="145.1" r="2.40"/><circle cx="161.7" cy="149.5" r="2.40"/><circle cx="181.3" cy="151.2" r="2.40"/><circle cx="191.3" cy="149.0" r="2.40"/><circle cx="191.3" cy="151.2" r="2.40"/><circle cx="200.1" cy="151.1" r="2.40"/><circle cx="163.4" cy="155.1" r="2.40"/><circle cx="161.1" cy="157.9" r="2.40"/><circle cx="167.3" cy="157.9" r="2.40"/><circle cx="167.3" cy="161.3" r="2.40"/><circle cx="173.4" cy="157.9" r="2.40"/><circle cx="179.0" cy="161.3" r="2.40"/><circle cx="189.1" cy="157.9" r="2.40"/><circle cx="187.4" cy="161.3" r="2.40"/><circle cx="190.2" cy="161.3" r="2.40"/><circle cx="160.0" cy="165.2" r="2.40"/><circle cx="163.4" cy="165.2" r="2.40"/><circle cx="163.4" cy="171.3" r="2.40"/><circle cx="249.1" cy="142.8" r="2.40"/><circle cx="256.9" cy="141.7" r="2.40"/><circle cx="268.5" cy="140.6" r="2.40"/><circle cx="244.6" cy="135.0" r="2.40"/><circle cx="275.1" cy="138.9" r="2.40"/><circle cx="64.6" cy="232.6" r="2.40"/><circle cx="61.1" cy="256.0" r="2.40"/><circle cx="248.7" cy="115.1" r="2.40"/><circle cx="240.8" cy="121.8" r="2.40"/><circle cx="242.5" cy="129.0" r="2.40"/><circle cx="221.1" cy="132.9" r="2.40"/><circle cx="231.2" cy="132.9" r="2.40"/><circle cx="236.9" cy="131.3" r="2.40"/><circle cx="248.1" cy="131.3" r="2.40"/><circle cx="247.0" cy="136.9" r="2.40"/><circle cx="99.5" cy="181.4" r="2.40"/><circle cx="102.4" cy="181.1" r="2.40"/><circle cx="105.4" cy="181.4" r="2.40"/><circle cx="100.2" cy="184.4" r="2.40"/><circle cx="106.2" cy="184.4" r="2.40"/><circle cx="107.7" cy="187.0" r="2.40"/><circle cx="99.1" cy="187.8" r="2.40"/><circle cx="101.7" cy="187.8" r="2.40"/><circle cx="103.9" cy="189.6" r="2.40"/><circle cx="98.0" cy="190.8" r="2.40"/><circle cx="101.3" cy="191.5" r="2.40"/><circle cx="105.8" cy="191.1" r="2.40"/><circle cx="96.5" cy="193.4" r="2.40"/><circle cx="99.5" cy="194.5" r="2.40"/><circle cx="95.7" cy="184.1" r="2.40"/><circle cx="109.1" cy="194.5" r="2.40"/><circle cx="113.2" cy="181.4" r="2.40"/><circle cx="115.8" cy="180.7" r="2.40"/><circle cx="121.1" cy="181.1" r="2.40"/><circle cx="125.5" cy="181.4" r="2.40"/><circle cx="112.9" cy="184.4" r="2.40"/><circle cx="115.1" cy="183.7" r="2.40"/><circle cx="112.9" cy="187.0" r="2.40"/><circle cx="117.3" cy="189.3" r="2.40"/><circle cx="121.4" cy="188.1" r="2.40"/><circle cx="124.0" cy="188.5" r="2.40"/><circle cx="113.2" cy="191.5" r="2.40"/><circle cx="133.0" cy="181.2" r="2.40"/><circle cx="137.1" cy="181.1" r="2.40"/><circle cx="141.2" cy="179.6" r="2.40"/><circle cx="139.7" cy="181.1" r="2.40"/><circle cx="205.2" cy="140.1" r="2.40"/><circle cx="209.3" cy="142.0" r="2.40"/><circle cx="211.2" cy="143.8" r="2.40"/><circle cx="216.4" cy="140.4" r="2.40"/><circle cx="216.0" cy="143.4" r="2.40"/><circle cx="214.9" cy="146.4" r="2.40"/><circle cx="216.8" cy="149.0" r="2.40"/><circle cx="221.2" cy="146.4" r="2.40"/><circle cx="227.2" cy="138.2" r="2.40"/><circle cx="226.8" cy="145.3" r="2.40"/><circle cx="229.4" cy="141.6" r="2.40"/><circle cx="232.4" cy="140.1" r="2.40"/><circle cx="232.8" cy="146.4" r="2.40"/><circle cx="237.2" cy="139.7" r="2.40"/><circle cx="238.7" cy="141.2" r="2.40"/><circle cx="211.2" cy="150.9" r="2.40"/><circle cx="203.4" cy="155.0" r="2.40"/><circle cx="207.4" cy="155.0" r="2.40"/><circle cx="211.2" cy="155.3" r="2.40"/><circle cx="218.6" cy="152.4" r="2.40"/><circle cx="238.7" cy="146.8" r="2.40"/><circle cx="318.6" cy="98.4" r="2.40"/><circle cx="331.2" cy="104.0" r="2.40"/><circle cx="336.2" cy="106.2" r="2.40"/><circle cx="348.8" cy="103.3" r="2.40"/><circle cx="352.3" cy="101.2" r="2.40"/><circle cx="296.8" cy="113.2" r="2.40"/><circle cx="308.0" cy="112.5" r="2.40"/><circle cx="306.6" cy="119.5" r="2.40"/></g><g fill="#ffff00"><circle cx="343.1" cy="64.7" r="2.40"/><circle cx="378.5" cy="58.5" r="2.40"/><circle cx="352.7" cy="65.4" r="2.40"/><circle cx="352.2" cy="72.1" r="2.40"/><circle cx="350.4" cy="74.8" r="2.40"/><circle cx="394.5" cy="64.8" r="2.40"/><circle cx="394.5" cy="71.5" r="2.40"/><circle cx="400.4" cy="70.8" r="2.40"/><circle cx="406.2" cy="61.7" r="2.40"/><circle cx="410.4" cy="59.4" r="2.40"/><circle cx="406.7" cy="65.7" r="2.40"/><circle cx="409.5" cy="66.3" r="2.40"/><circle cx="418.5" cy="67.5" r="2.40"/><circle cx="416.3" cy="71.2" r="2.40"/><circle cx="422.2" cy="59.4" r="2.40"/><circle cx="424.0" cy="64.5" r="2.40"/><circle cx="422.2" cy="71.2" r="2.40"/><circle cx="422.0" cy="73.9" r="2.40"/><circle cx="430.4" cy="55.2" r="2.40"/><circle cx="434.0" cy="51.2" r="2.40"/><circle cx="434.9" cy="53.9" r="2.40"/><circle cx="440.0" cy="55.4" r="2.40"/><circle cx="438.5" cy="58.5" r="2.40"/><circle cx="430.9" cy="60.8" r="2.40"/><circle cx="436.7" cy="63.0" r="2.40"/><circle cx="434.9" cy="67.2" r="2.40"/><circle cx="430.4" cy="67.0" r="2.40"/><circle cx="434.1" cy="72.4" r="2.40"/><circle cx="438.2" cy="74.2" r="2.40"/><circle cx="404.0" cy="73.0" r="2.40"/><circle cx="408.4" cy="74.9" r="2.40"/><circle cx="375.3" cy="76.2" r="2.40"/><circle cx="378.8" cy="76.0" r="2.40"/><circle cx="395.4" cy="76.2" r="2.40"/><circle cx="456.4" cy="51.7" r="2.40"/><circle cx="450.4" cy="63.9" r="2.40"/><circle cx="460.6" cy="63.1" r="2.40"/><circle cx="454.0" cy="69.0" r="2.40"/><circle cx="457.9" cy="70.4" r="2.40"/><circle cx="466.1" cy="73.7" r="2.40"/><circle cx="472.0" cy="68.6" r="2.40"/><circle cx="476.1" cy="66.7" r="2.40"/><circle cx="480.0" cy="66.0" r="2.40"/><circle cx="485.9" cy="66.0" r="2.40"/><circle cx="488.9" cy="65.2" r="2.40"/><circle cx="485.9" cy="71.1" r="2.40"/><circle cx="489.8" cy="71.1" r="2.40"/><circle cx="492.2" cy="57.2" r="2.40"/><circle cx="498.0" cy="61.7" r="2.40"/><circle cx="513.8" cy="64.6" r="2.40"/><circle cx="525.6" cy="68.6" r="2.40"/><circle cx="539.9" cy="65.6" r="2.40"/><circle cx="473.6" cy="76.2" r="2.40"/><circle cx="141.6" cy="125.6" r="2.40"/><circle cx="133.5" cy="131.1" r="2.40"/><circle cx="120.6" cy="137.7" r="2.40"/><circle cx="193.2" cy="101.4" r="2.40"/><circle cx="192.2" cy="104.6" r="2.40"/><circle cx="230.9" cy="97.8" r="2.40"/><circle cx="215.0" cy="104.8" r="2.40"/><circle cx="219.1" cy="111.3" r="2.40"/><circle cx="223.1" cy="114.1" r="2.40"/><circle cx="231.1" cy="111.1" r="2.40"/><circle cx="238.8" cy="110.8" r="2.40"/><circle cx="159.5" cy="118.2" r="2.40"/><circle cx="179.5" cy="121.1" r="2.40"/><circle cx="194.9" cy="116.1" r="2.40"/><circle cx="203.2" cy="115.6" r="2.40"/><circle cx="207.3" cy="117.5" r="2.40"/><circle cx="203.2" cy="120.0" r="2.40"/><circle cx="215.0" cy="117.4" r="2.40"/><circle cx="191.5" cy="126.4" r="2.40"/><circle cx="147.3" cy="130.2" r="2.40"/><circle cx="151.6" cy="129.1" r="2.40"/><circle cx="169.5" cy="132.7" r="2.40"/><circle cx="162.9" cy="137.1" r="2.40"/><circle cx="259.5" cy="82.4" r="2.40"/><circle cx="260.7" cy="87.3" r="2.40"/><circle cx="278.9" cy="87.8" r="2.40"/><circle cx="292.7" cy="83.3" r="2.40"/><circle cx="297.1" cy="86.5" r="2.40"/><circle cx="312.7" cy="77.8" r="2.40"/><circle cx="326.7" cy="78.2" r="2.40"/><circle cx="322.5" cy="81.5" r="2.40"/><circle cx="322.5" cy="84.2" r="2.40"/><circle cx="340.4" cy="80.0" r="2.40"/><circle cx="331.3" cy="86.9" r="2.40"/><circle cx="334.9" cy="86.0" r="2.40"/><circle cx="338.5" cy="86.5" r="2.40"/><circle cx="341.2" cy="92.7" r="2.40"/><circle cx="310.9" cy="90.6" r="2.40"/><circle cx="323.8" cy="92.8" r="2.40"/><circle cx="330.8" cy="93.4" r="2.40"/><circle cx="332.5" cy="95.3" r="2.40"/><circle cx="246.7" cy="94.5" r="2.40"/><circle cx="245.1" cy="100.1" r="2.40"/><circle cx="245.0" cy="106.6" r="2.40"/><circle cx="254.9" cy="100.0" r="2.40"/><circle cx="283.1" cy="95.1" r="2.40"/><circle cx="286.7" cy="98.7" r="2.40"/><circle cx="290.9" cy="96.9" r="2.40"/><circle cx="290.9" cy="101.1" r="2.40"/><circle cx="302.4" cy="95.3" r="2.40"/><circle cx="298.4" cy="100.3" r="2.40"/><circle cx="304.6" cy="99.0" r="2.40"/><circle cx="308.1" cy="97.8" r="2.40"/><circle cx="318.9" cy="96.6" r="2.40"/><circle cx="261.3" cy="105.5" r="2.40"/><circle cx="264.9" cy="106.0" r="2.40"/><circle cx="271.3" cy="104.2" r="2.40"/><circle cx="273.1" cy="102.4" r="2.40"/><circle cx="278.5" cy="105.1" r="2.40"/><circle cx="283.1" cy="104.2" r="2.40"/><circle cx="294.8" cy="103.1" r="2.40"/><circle cx="252.7" cy="110.5" r="2.40"/><circle cx="344.6" cy="90.7" r="2.40"/><circle cx="356.7" cy="78.2" r="2.40"/><circle cx="356.7" cy="83.3" r="2.40"/><circle cx="362.3" cy="85.5" r="2.40"/><circle cx="360.6" cy="88.3" r="2.40"/><circle cx="364.5" cy="87.2" r="2.40"/><circle cx="367.9" cy="84.9" r="2.40"/><circle cx="370.7" cy="84.4" r="2.40"/><circle cx="364.0" cy="89.4" r="2.40"/><circle cx="366.8" cy="88.3" r="2.40"/><circle cx="374.0" cy="87.2" r="2.40"/><circle cx="380.2" cy="82.7" r="2.40"/><circle cx="383.5" cy="84.4" r="2.40"/><circle cx="388.0" cy="86.1" r="2.40"/><circle cx="393.6" cy="79.4" r="2.40"/><circle cx="398.0" cy="84.9" r="2.40"/><circle cx="402.5" cy="79.4" r="2.40"/><circle cx="409.6" cy="83.3" r="2.40"/><circle cx="352.8" cy="91.1" r="2.40"/><circle cx="405.9" cy="76.6" r="2.40"/><circle cx="424.6" cy="78.4" r="2.40"/><circle cx="420.1" cy="80.6" r="2.40"/><circle cx="441.9" cy="80.1" r="2.40"/><circle cx="444.1" cy="80.1" r="2.40"/><circle cx="457.0" cy="78.4" r="2.40"/><circle cx="463.4" cy="77.3" r="2.40"/><circle cx="470.3" cy="75.8" r="2.40"/><circle cx="97.6" cy="152.9" r="2.40"/><circle cx="90.4" cy="157.9" r="2.40"/><circle cx="100.2" cy="161.3" r="2.40"/><circle cx="83.7" cy="165.2" r="2.40"/><circle cx="79.8" cy="167.4" r="2.40"/><circle cx="77.2" cy="171.1" r="2.40"/><circle cx="80.7" cy="171.4" r="2.40"/><circle cx="86.3" cy="171.4" r="2.40"/><circle cx="57.0" cy="204.4" r="2.40"/><circle cx="60.0" cy="204.4" r="2.40"/><circle cx="63.0" cy="204.4" r="2.40"/><circle cx="66.0" cy="204.4" r="2.40"/><circle cx="68.5" cy="204.4" r="2.40"/><circle cx="55.0" cy="215.1" r="2.40"/><circle cx="58.0" cy="215.1" r="2.40"/><circle cx="61.0" cy="215.1" r="2.40"/><circle cx="64.0" cy="215.1" r="2.40"/><circle cx="83.4" cy="171.4" r="2.40"/><circle cx="77.7" cy="180.7" r="2.40"/><circle cx="82.7" cy="183.6" r="2.40"/><circle cx="76.2" cy="187.9" r="2.40"/><circle cx="76.9" cy="190.0" r="2.40"/><circle cx="62.6" cy="192.2" r="2.40"/><circle cx="66.9" cy="193.6" r="2.40"/><circle cx="63.3" cy="195.8" r="2.40"/><circle cx="65.5" cy="198.6" r="2.40"/><circle cx="70.5" cy="198.6" r="2.40"/><circle cx="73.4" cy="198.6" r="2.40"/><circle cx="61.9" cy="209.4" r="2.40"/><circle cx="61.9" cy="211.5" r="2.40"/><circle cx="145.6" cy="140.0" r="2.40"/></g><g fill="#00b4ff"><circle cx="143.7" cy="215.1" r="2.40"/><circle cx="175.8" cy="202.9" r="2.40"/><circle cx="245.2" cy="181.5" r="2.40"/><circle cx="264.8" cy="182.8" r="2.40"/><circle cx="111.8" cy="244.8" r="2.40"/><circle cx="87.2" cy="258.9" r="2.40"/><circle cx="71.2" cy="282.1" r="2.40"/><circle cx="73.6" cy="280.8" r="2.40"/><circle cx="126.7" cy="238.0" r="2.40"/></g><g fill="#ff8000"><circle cx="237.1" cy="63.0" r="2.40"/><circle cx="230.9" cy="73.0" r="2.40"/><circle cx="226.9" cy="76.2" r="2.40"/><circle cx="261.3" cy="67.0" r="2.40"/><circle cx="282.7" cy="63.2" r="2.40"/><circle cx="318.5" cy="63.5" r="2.40"/><circle cx="336.7" cy="51.7" r="2.40"/><circle cx="346.7" cy="52.5" r="2.40"/><circle cx="358.9" cy="50.8" r="2.40"/><circle cx="372.7" cy="39.4" r="2.40"/><circle cx="382.5" cy="37.0" r="2.40"/><circle cx="386.7" cy="33.5" r="2.40"/><circle cx="404.4" cy="37.0" r="2.40"/><circle cx="406.7" cy="38.6" r="2.40"/><circle cx="418.2" cy="39.0" r="2.40"/><circle cx="406.4" cy="45.7" r="2.40"/><circle cx="406.4" cy="50.8" r="2.40"/><circle cx="443.6" cy="34.8" r="2.40"/><circle cx="452.2" cy="38.1" r="2.40"/><circle cx="115.8" cy="100.2" r="2.40"/><circle cx="95.8" cy="118.4" r="2.40"/><circle cx="117.6" cy="121.1" r="2.40"/><circle cx="121.8" cy="120.5" r="2.40"/><circle cx="109.8" cy="126.0" r="2.40"/><circle cx="109.8" cy="129.6" r="2.40"/><circle cx="91.8" cy="135.6" r="2.40"/><circle cx="73.8" cy="138.7" r="2.40"/><circle cx="77.5" cy="138.9" r="2.40"/><circle cx="93.8" cy="138.9" r="2.40"/><circle cx="97.6" cy="138.9" r="2.40"/><circle cx="155.3" cy="89.1" r="2.40"/><circle cx="171.3" cy="95.6" r="2.40"/><circle cx="77.5" cy="143.9" r="2.40"/><circle cx="77.5" cy="146.2" r="2.40"/><circle cx="63.9" cy="151.8" r="2.40"/><circle cx="73.6" cy="157.9" r="2.40"/><circle cx="64.3" cy="171.4" r="2.40"/><circle cx="66.9" cy="171.3" r="2.40"/><circle cx="69.8" cy="171.4" r="2.40"/><circle cx="51.0" cy="204.4" r="2.40"/><circle cx="51.9" cy="215.1" r="2.40"/><circle cx="58.3" cy="177.2" r="2.40"/><circle cx="59.0" cy="180.7" r="2.40"/><circle cx="54.0" cy="182.9" r="2.40"/><circle cx="58.3" cy="184.3" r="2.40"/><circle cx="61.9" cy="188.6" r="2.40"/><circle cx="58.3" cy="191.5" r="2.40"/><circle cx="54.0" cy="194.3" r="2.40"/><circle cx="57.6" cy="199.4" r="2.40"/></g><g fill="#ff00ff"><circle cx="160.0" cy="66.6" r="2.40"/><circle cx="302.7" cy="30.3" r="2.40"/><circle cx="83.6" cy="90.9" r="2.40"/><circle cx="71.6" cy="112.4" r="2.40"/><circle cx="67.6" cy="127.8" r="2.40"/><circle cx="63.6" cy="131.1" r="2.40"/><circle cx="58.1" cy="137.7" r="2.40"/><circle cx="63.9" cy="140.0" r="2.40"/><circle cx="65.8" cy="146.2" r="2.40"/><circle cx="63.9" cy="149.0" r="2.40"/><circle cx="55.7" cy="171.3" r="2.40"/><circle cx="48.3" cy="204.4" r="2.40"/><circle cx="48.3" cy="215.1" r="2.40"/></g><g fill="#c42828"><circle cx="57.1" cy="131.5" r="2.40"/><circle cx="51.6" cy="158.5" r="2.40"/><circle cx="47.9" cy="171.3" r="2.40"/></g></g>
<path d="M44.00 13.00H542.20" stroke="#707070" stroke-width="1.6" fill="none"/>
<path d="M541.70 12.30V315.40" stroke="#606060" stroke-width="1.6" fill="none"/>
<path d="M44 12.30V315.90" stroke="#505050" stroke-width="1.4" fill="none"/>
<path d="M43.30 315.40H542.40" stroke="#202020" stroke-width="1.3" fill="none"/>
<g font-family="'Liberation Serif','Times New Roman',serif" fill="#181818" stroke="#181818" stroke-width="0.25"><text x="37.2" y="16.50" text-anchor="end" font-size="10.2">10</text><text x="37.5" y="10.00" font-size="4.2" fill="#555" stroke="none">4</text><text x="37.2" y="50.10" text-anchor="end" font-size="10.2">10</text><text x="37.5" y="43.60" font-size="4.2" fill="#555" stroke="none">3</text><text x="37.2" y="83.70" text-anchor="end" font-size="10.2">10</text><text x="37.5" y="77.20" font-size="4.2" fill="#555" stroke="none">2</text><text x="37.2" y="117.30" text-anchor="end" font-size="10.2">10</text><text x="37.5" y="110.80" font-size="4.2" fill="#555" stroke="none">1</text><text x="37.2" y="150.90" text-anchor="end" font-size="10.2">10</text><text x="37.5" y="144.40" font-size="4.2" fill="#555" stroke="none">0</text><text x="37.2" y="184.50" text-anchor="end" font-size="10.2">10</text><text x="37.5" y="178.00" font-size="4.2" fill="#555" stroke="none">−1</text><text x="37.2" y="218.10" text-anchor="end" font-size="10.2">10</text><text x="37.5" y="211.60" font-size="4.2" fill="#555" stroke="none">−2</text><text x="37.2" y="251.70" text-anchor="end" font-size="10.2">10</text><text x="37.5" y="245.20" font-size="4.2" fill="#555" stroke="none">−3</text><text x="37.2" y="285.30" text-anchor="end" font-size="10.2">10</text><text x="37.5" y="278.80" font-size="4.2" fill="#555" stroke="none">−4</text><text x="39.1" y="327.8" text-anchor="middle" font-size="10">0</text><text x="85.40" y="327.8" text-anchor="middle" font-size="10">0.02</text><text x="125.20" y="327.8" text-anchor="middle" font-size="10">0.04</text><text x="165.00" y="327.8" text-anchor="middle" font-size="10">0.06</text><text x="204.80" y="327.8" text-anchor="middle" font-size="10">0.08</text><text x="244.60" y="327.8" text-anchor="middle" font-size="10">0.1</text><text x="284.40" y="327.8" text-anchor="middle" font-size="10">0.12</text><text x="324.20" y="327.8" text-anchor="middle" font-size="10">0.14</text><text x="364.00" y="327.8" text-anchor="middle" font-size="10">0.16</text><text x="403.80" y="327.8" text-anchor="middle" font-size="10">0.18</text><text x="443.60" y="327.8" text-anchor="middle" font-size="10">0.2</text><text x="483.40" y="327.8" text-anchor="middle" font-size="10">0.22</text><text x="523.20" y="327.8" text-anchor="middle" font-size="10">0.24</text><text x="293" y="340.9" text-anchor="middle" font-size="11" stroke="none" fill="#222">Core Porosity (v/v)</text><text transform="translate(16.4 163.8) rotate(-90)" text-anchor="middle" font-size="11" stroke="none" fill="#333">Core Permeability (mD)</text></g>
<g font-family="'Liberation Serif','Times New Roman',serif" fill="#2222dd" stroke="#2222dd" stroke-width="0.15"><text transform="translate(145.30 33.50) rotate(-14.0)" font-size="10.4">DRT7</text><text transform="translate(228.50 35.50) rotate(-14.5)" font-size="10.4">DRT6</text><text transform="translate(466.20 35.60) rotate(-5.8)" font-size="10.4">DRT5</text><text transform="translate(504.50 64.80) rotate(0.0)" font-size="10.4">DRT4</text><text transform="translate(500.60 88.70) rotate(0.0)" font-size="10.4">DRT3</text><text transform="translate(504.00 118.90) rotate(0.0)" font-size="10.4">DRT2</text><text transform="translate(504.00 144.40) rotate(0.0)" font-size="10.4">DRT1</text></g>
<g font-family="'Liberation Serif','Times New Roman',serif" fill="#303030"><text x="421.6" y="226.8" font-size="10.9">DRT(Discrete Rock Type)</text><rect x="454.2" y="235.80" width="20.6" height="10.7" fill="#c42828"/><text x="477.8" y="243.60" font-size="10.2">DRT7</text><rect x="454.2" y="246.40" width="20.6" height="10.7" fill="#ff00ff"/><text x="477.8" y="254.20" font-size="10.2">DRT6</text><rect x="454.2" y="257.00" width="20.6" height="10.7" fill="#ff8000"/><text x="477.8" y="264.80" font-size="10.2">DRT5</text><rect x="454.2" y="267.60" width="20.6" height="10.7" fill="#ffff00"/><text x="477.8" y="275.40" font-size="10.2">DRT4</text><rect x="454.2" y="278.20" width="20.6" height="10.7" fill="#00f800"/><text x="477.8" y="286.00" font-size="10.2">DRT3</text><rect x="454.2" y="288.80" width="20.6" height="10.7" fill="#00c400"/><text x="477.8" y="296.60" font-size="10.2">DRT2</text><rect x="454.2" y="299.40" width="20.6" height="10.7" fill="#00c0ff"/><text x="477.8" y="307.20" font-size="10.2">DRT1</text></g>
</svg>
</body></html>
